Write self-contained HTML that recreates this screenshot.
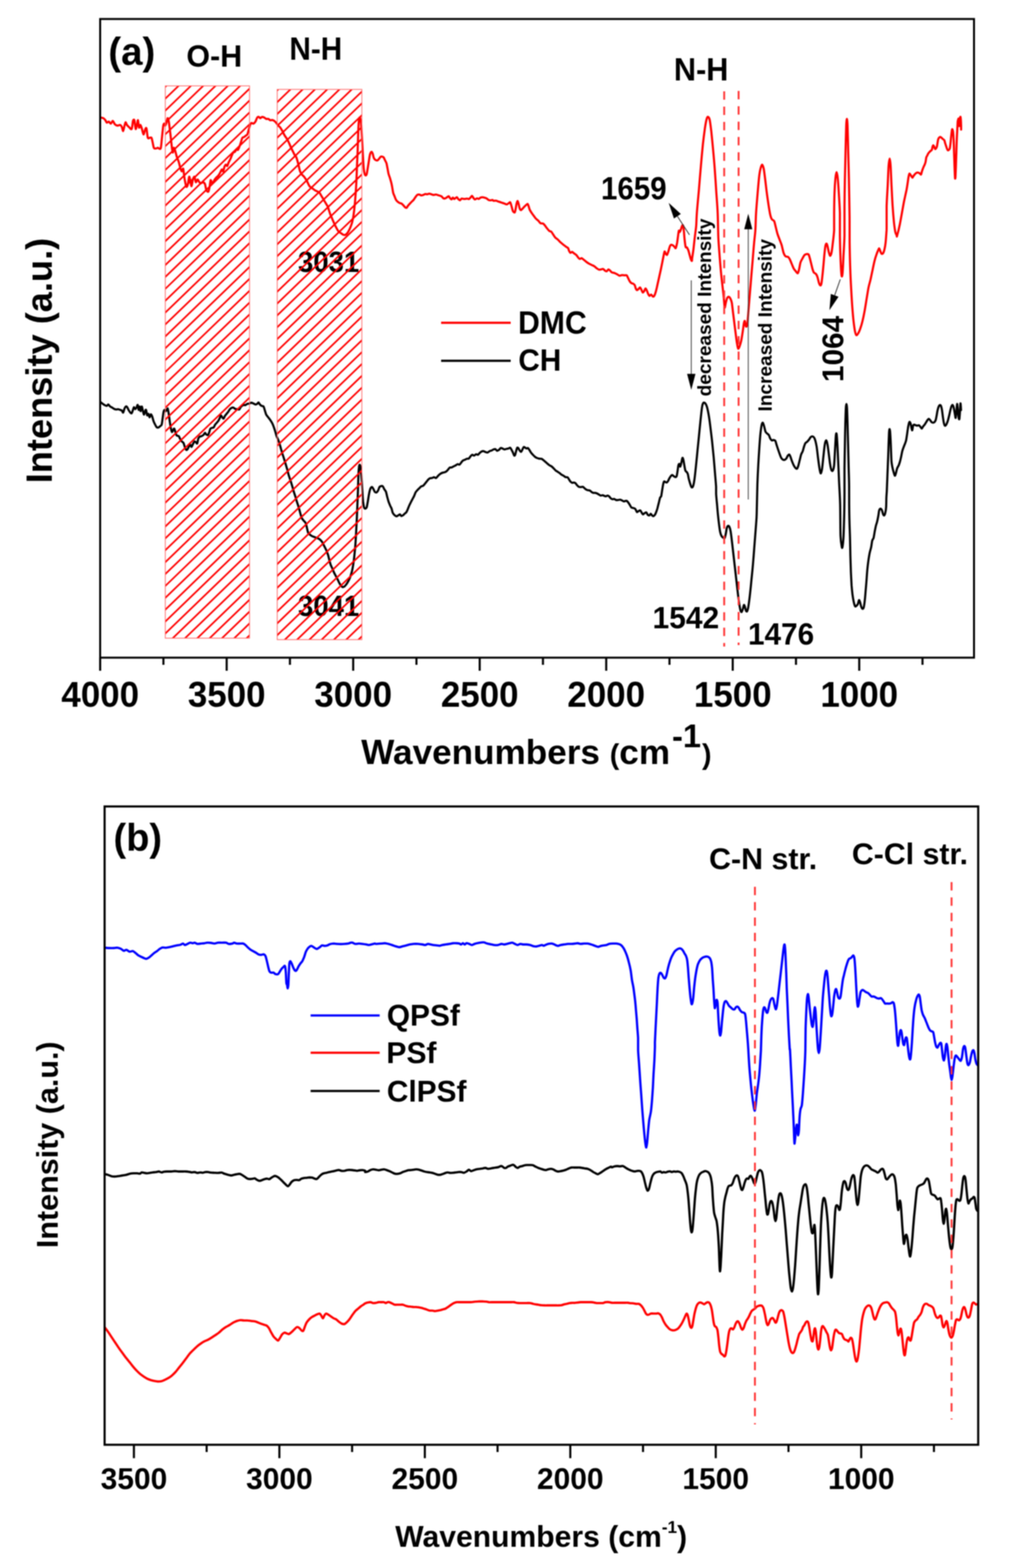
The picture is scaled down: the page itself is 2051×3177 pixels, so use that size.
<!DOCTYPE html>
<html lang="en"><head><meta charset="utf-8"><title>FTIR spectra</title>
<style>
html,body{margin:0;padding:0;background:#fff;}
body{width:2051px;height:3177px;overflow:hidden;}
svg{display:block;}
#fig{width:2051px;height:3177px;filter:blur(0.8px);}
text{font-family:"Liberation Sans",sans-serif;font-weight:bold;fill:#000;}
.curve{fill:none;stroke-linejoin:round;stroke-linecap:round;}
.ax line{stroke:#000;stroke-width:4.2;}
</style></head><body>
<div id="fig">
<svg width="2051" height="3177" viewBox="0 0 2051 3177" role="img" aria-label="FTIR spectra">
<defs>
</defs>
<rect x="0" y="0" width="2051" height="3177" fill="#fff"/>
<g id="panel-a">
<path class="curve" d="M204.1,238.2C204.9,238.4 208.2,238.8 209.5,239.5C210.9,240.3 212.7,242.4 213.6,243.6C214.6,244.9 215.4,248.2 216.4,248.5C217.3,248.9 219.3,246.1 220.5,246.4C221.6,246.6 223.4,250.6 224.5,250.5C225.7,250.3 227.5,244.8 228.6,245.0C229.8,245.2 231.4,250.5 232.7,251.8C234.1,253.2 236.7,254.4 238.2,254.5C239.7,254.7 242.4,252.8 243.6,253.2C244.9,253.6 246.1,255.6 246.9,257.3C247.7,259.0 248.9,265.8 249.6,265.5C250.4,265.1 251.7,257.0 252.4,254.5C253.1,252.1 253.9,247.9 254.5,247.7C255.2,247.5 256.3,251.8 257.3,253.2C258.2,254.5 260.0,256.1 261.4,257.3C262.7,258.4 265.7,263.1 266.8,261.4C268.0,259.6 268.8,247.5 269.5,245.0C270.3,242.5 271.5,241.3 272.3,243.6C273.0,245.9 274.2,260.2 275.0,261.4C275.8,262.5 277.1,254.3 277.7,251.8C278.4,249.3 279.1,242.7 279.6,243.6C280.2,244.6 281.1,257.3 281.8,258.6C282.5,260.0 283.8,253.0 284.5,253.2C285.3,253.4 286.4,257.3 287.3,260.0C288.2,262.7 289.9,271.9 290.8,272.3C291.8,272.7 293.3,264.4 294.1,262.7C294.9,261.0 296.1,257.7 296.8,260.0C297.6,262.3 298.6,276.4 299.5,279.1C300.5,281.8 302.6,279.1 303.6,279.1C304.7,279.1 306.1,277.9 306.9,279.1C307.7,280.2 308.4,284.4 309.1,287.3C309.8,290.1 310.9,297.6 311.8,299.5C312.8,301.5 314.8,300.9 315.9,300.9C317.1,300.9 319.0,299.5 320.0,299.5C321.0,299.6 322.4,301.5 323.3,301.5C324.1,301.5 325.3,302.7 326.0,299.5C326.7,296.4 327.5,285.4 328.2,279.1C328.9,272.8 330.2,258.6 330.9,254.5C331.6,250.5 332.5,250.5 333.1,250.5C333.7,250.5 334.4,254.7 335.0,254.5C335.6,254.4 336.5,251.2 337.2,249.1C337.8,247.0 339.0,240.1 339.6,239.5C340.3,239.0 341.2,242.3 341.8,245.0C342.4,247.7 343.2,254.2 343.7,258.6C344.3,263.0 345.2,270.4 345.9,276.4C346.6,282.3 348.0,296.3 348.6,300.9C349.3,305.5 350.0,309.3 350.5,309.1C351.0,308.9 351.6,300.1 352.2,299.5C352.8,299.0 354.1,302.5 354.9,305.0C355.7,307.5 357.2,314.0 358.2,317.3C359.2,320.5 361.2,324.7 362.3,328.2C363.3,331.6 364.9,339.1 365.8,341.8C366.7,344.5 367.8,347.3 368.5,347.3C369.3,347.3 370.6,340.3 371.3,341.8C372.0,343.3 372.8,354.0 373.5,358.2C374.1,362.4 375.3,369.0 375.9,371.8C376.5,374.7 377.2,378.3 377.8,378.6C378.5,379.0 379.8,377.4 380.5,374.5C381.3,371.7 382.6,359.5 383.3,358.2C384.0,356.8 384.8,362.3 385.5,365.0C386.1,367.7 387.4,377.5 388.2,377.3C388.9,377.1 390.1,366.3 390.9,363.6C391.7,361.0 393.3,357.4 394.2,358.2C395.0,358.9 396.0,368.3 396.9,369.1C397.8,369.9 399.5,363.6 400.5,363.6C401.4,363.6 403.0,368.0 404.0,369.1C405.0,370.2 406.2,371.3 407.3,371.3C408.3,371.3 410.2,368.8 411.4,369.1C412.5,369.4 414.5,370.9 415.5,373.2C416.4,375.5 417.2,383.4 418.2,385.5C419.1,387.6 421.3,389.3 422.3,388.2C423.2,387.0 424.4,380.5 425.0,377.3C425.6,374.0 426.3,366.0 426.9,365.0C427.6,364.0 428.9,369.9 429.6,370.5C430.4,371.0 431.6,370.0 432.4,369.1C433.1,368.1 434.2,365.0 435.1,363.6C436.0,362.3 437.6,360.7 438.6,359.5C439.7,358.4 441.6,357.0 442.7,355.5C443.9,353.9 445.9,350.4 446.8,348.6C447.8,346.9 448.8,343.4 449.5,343.2C450.3,343.0 451.5,348.0 452.3,347.3C453.0,346.5 454.2,339.6 455.0,337.7C455.8,335.8 457.0,333.8 457.7,333.6C458.5,333.4 459.7,336.9 460.5,336.4C461.2,335.8 462.2,331.6 463.2,329.5C464.1,327.4 466.3,323.5 467.3,321.4C468.2,319.3 469.2,316.3 470.0,314.5C470.8,312.8 471.9,310.0 472.7,309.1C473.6,308.1 475.0,308.7 476.0,307.7C477.0,306.8 478.7,302.8 479.5,302.3C480.4,301.7 481.4,304.6 482.3,303.6C483.2,302.7 484.9,297.7 485.8,295.5C486.7,293.2 487.8,289.6 488.5,287.3C489.3,285.0 490.4,280.4 491.3,279.1C492.1,277.8 493.6,278.3 494.5,277.7C495.5,277.2 496.9,275.8 497.8,275.0C498.8,274.2 500.5,274.0 501.4,272.3C502.2,270.6 503.3,265.4 504.1,262.7C504.9,260.1 506.1,255.1 506.8,253.2C507.6,251.3 508.6,249.5 509.5,249.1C510.5,248.7 512.5,250.8 513.6,250.5C514.8,250.1 516.7,248.1 517.7,246.4C518.8,244.6 520.3,239.5 521.3,238.2C522.2,236.8 523.7,236.6 524.5,236.8C525.4,237.0 526.3,239.5 527.3,239.5C528.2,239.5 530.2,237.0 531.4,236.8C532.5,236.6 534.3,237.6 535.5,238.2C536.6,238.8 538.4,240.5 539.5,240.9C540.7,241.3 542.5,240.5 543.6,240.9C544.8,241.3 546.6,243.3 547.7,243.6C548.9,243.9 550.7,242.9 551.8,243.1C553.0,243.3 554.8,244.2 555.9,245.0C557.1,245.8 558.9,247.8 560.0,249.1C561.1,250.4 562.9,253.2 564.1,254.5C565.2,255.9 567.0,257.1 568.2,258.6C569.3,260.2 571.1,263.4 572.3,265.5C573.4,267.6 575.0,271.3 576.4,273.6C577.7,275.9 580.5,279.5 581.8,281.8C583.2,284.1 584.8,287.5 585.9,290.0C587.1,292.5 588.9,297.1 590.0,299.5C591.1,302.0 592.9,305.4 594.1,307.7C595.2,310.0 597.4,314.6 598.2,315.9C599.0,317.2 599.4,315.9 600.0,317.3C600.6,318.6 602.0,322.8 602.7,325.5C603.5,328.1 604.7,333.3 605.5,336.4C606.2,339.4 607.2,344.8 608.2,347.3C609.1,349.8 611.1,352.6 612.3,354.1C613.4,355.6 615.0,356.5 616.4,358.2C617.7,359.9 620.3,363.7 621.8,366.4C623.3,369.0 625.7,375.2 627.3,377.3C628.8,379.4 631.2,380.2 632.7,381.4C634.3,382.5 636.7,384.5 638.2,385.5C639.7,386.4 642.3,387.4 643.6,388.2C645.0,388.9 646.6,389.6 647.7,390.9C648.9,392.2 650.7,395.8 651.8,397.7C653.0,399.6 654.8,402.6 655.9,404.5C657.1,406.5 658.9,409.5 660.0,411.4C661.1,413.3 663.1,416.1 664.1,418.2C665.0,420.3 666.1,424.1 666.8,426.4C667.6,428.7 668.6,432.1 669.5,434.5C670.5,437.0 672.5,441.4 673.6,444.1C674.8,446.8 676.6,451.2 677.7,453.6C678.9,456.1 680.7,459.7 681.8,461.8C683.0,463.9 684.6,467.1 685.9,468.6C687.2,470.2 690.0,471.8 691.4,472.7C692.7,473.7 694.3,475.0 695.5,475.5C696.6,475.9 698.4,476.4 699.5,476.0C700.7,475.6 702.5,474.1 703.6,472.7C704.8,471.3 706.6,468.2 707.7,465.9C708.9,463.6 710.9,459.0 711.8,456.4C712.8,453.7 713.9,449.9 714.5,446.8C715.2,443.8 716.2,438.6 716.7,434.5C717.3,430.5 718.1,423.5 718.6,418.2C719.2,412.8 720.0,403.2 720.5,396.4C721.0,389.5 721.8,377.5 722.2,369.1C722.6,360.7 723.2,345.5 723.5,336.4C723.9,327.2 724.6,313.2 724.9,303.6C725.3,294.1 725.7,276.6 726.0,268.2C726.3,259.8 727.0,247.8 727.4,243.6C727.7,239.4 728.3,238.6 728.7,238.2C729.1,237.8 729.9,239.4 730.4,240.9C730.8,242.4 731.3,244.9 731.7,249.1C732.1,253.3 732.7,264.4 733.1,270.9C733.5,277.4 734.1,288.6 734.5,295.5C734.8,302.3 735.4,313.5 735.8,320.0C736.2,326.5 736.7,337.2 737.2,341.8C737.6,346.4 738.5,350.8 739.1,352.7C739.7,354.6 740.7,355.5 741.3,355.5C741.8,355.5 742.6,354.6 743.2,352.7C743.7,350.8 744.5,345.3 745.1,341.8C745.7,338.4 746.7,332.0 747.3,328.2C747.9,324.4 748.9,317.2 749.5,314.5C750.0,311.9 750.8,310.0 751.4,309.1C751.9,308.1 753.0,307.3 753.5,307.7C754.1,308.1 754.9,310.1 755.5,311.8C756.0,313.5 756.9,318.3 757.6,320.0C758.4,321.7 759.9,323.4 760.9,324.1C761.9,324.8 763.9,325.3 765.0,324.9C766.1,324.5 767.7,322.4 768.5,321.4C769.4,320.4 770.4,318.4 771.3,317.8C772.1,317.2 773.7,317.2 774.5,317.3C775.4,317.4 776.5,317.7 777.3,318.6C778.0,319.6 779.2,322.4 780.0,324.1C780.8,325.8 782.5,328.4 783.3,330.9C784.0,333.4 784.8,338.8 785.5,341.8C786.1,344.9 786.9,350.1 787.6,352.7C788.3,355.4 789.6,358.4 790.4,360.9C791.1,363.4 792.4,367.8 793.1,370.5C793.7,373.1 794.5,377.1 795.0,380.0C795.5,382.9 796.3,388.4 796.9,390.9C797.6,393.4 798.9,395.8 799.6,397.7C800.4,399.6 801.5,403.0 802.4,404.5C803.2,406.1 804.8,407.7 805.9,408.6C807.0,409.6 808.9,410.8 810.0,411.4C811.1,411.9 812.9,412.0 814.1,412.7C815.2,413.5 817.2,415.7 818.2,416.8C819.2,417.9 820.6,419.8 821.5,420.4C822.3,420.9 823.4,421.4 824.2,420.9C824.9,420.4 826.0,418.0 826.9,416.8C827.8,415.7 829.4,413.9 830.5,412.7C831.5,411.6 833.4,409.8 834.5,408.6C835.7,407.5 837.6,405.9 838.6,404.5C839.7,403.2 841.2,400.4 842.2,399.1C843.1,397.8 844.4,395.7 845.5,395.0C846.5,394.3 848.4,394.1 849.5,394.2C850.7,394.3 852.5,395.7 853.6,395.8C854.8,395.9 856.6,395.4 857.7,395.0C858.9,394.6 860.7,393.3 861.8,393.1C863.0,392.9 864.8,393.8 865.9,393.6C867.1,393.5 868.9,392.3 870.0,392.3C871.1,392.3 872.9,393.3 874.1,393.6C875.2,394.0 876.8,394.9 878.2,395.0C879.5,395.1 882.1,394.1 883.6,394.2C885.2,394.3 887.6,395.3 889.1,395.8C890.6,396.3 893.2,396.9 894.5,397.7C895.9,398.6 897.5,401.2 898.6,401.8C899.8,402.4 901.6,402.2 902.7,401.8C903.9,401.4 905.9,399.7 906.8,399.1C907.8,398.5 908.8,397.3 909.5,397.7C910.3,398.1 911.5,400.9 912.3,401.8C913.0,402.7 914.2,404.2 915.0,404.0C915.8,403.8 917.0,400.6 917.7,400.5C918.5,400.3 919.7,403.1 920.5,403.2C921.2,403.3 922.4,401.8 923.2,401.3C923.9,400.8 925.1,399.4 925.9,399.6C926.7,399.9 927.8,402.3 928.6,403.2C929.5,404.1 931.2,406.0 932.2,405.9C933.1,405.8 934.2,402.7 935.5,402.4C936.7,402.0 939.4,403.2 940.9,403.2C942.4,403.2 945.0,402.4 946.4,402.4C947.7,402.4 949.3,403.6 950.5,403.2C951.6,402.7 953.7,400.0 954.5,399.1C955.4,398.2 956.0,396.5 956.7,396.9C957.5,397.3 959.2,400.8 960.0,401.8C960.8,402.8 961.8,404.0 962.7,404.0C963.7,404.0 965.7,401.9 966.8,401.8C967.9,401.7 969.4,403.4 970.4,403.2C971.3,403.0 972.6,401.0 973.6,400.5C974.7,400.0 976.6,399.6 977.7,399.6C978.9,399.6 980.7,400.1 981.8,400.5C983.0,400.8 984.8,401.2 985.9,401.8C987.1,402.5 988.9,404.5 990.0,405.1C991.1,405.7 992.9,405.9 994.1,405.9C995.2,405.9 997.4,405.0 998.2,405.1C999.0,405.2 999.0,406.5 1000.0,406.7C1001.0,407.0 1003.9,406.5 1005.5,406.7C1007.0,407.0 1009.4,408.1 1010.9,408.6C1012.4,409.2 1014.8,410.0 1016.4,410.5C1017.9,411.0 1020.3,411.7 1021.8,412.2C1023.3,412.7 1025.9,414.2 1027.3,414.1C1028.6,414.0 1030.4,411.9 1031.4,411.4C1032.3,410.8 1033.3,409.0 1034.1,410.0C1034.9,411.0 1036.1,415.7 1036.8,418.2C1037.6,420.7 1038.7,426.0 1039.5,427.7C1040.4,429.4 1042.3,431.0 1043.1,430.5C1043.9,429.9 1044.5,426.1 1045.0,423.6C1045.5,421.2 1046.3,415.0 1046.9,412.7C1047.5,410.4 1048.5,407.1 1049.1,407.3C1049.7,407.5 1050.7,412.0 1051.3,414.1C1051.8,416.2 1052.5,420.6 1053.2,422.3C1053.8,423.9 1055.0,425.8 1055.9,425.8C1056.8,425.8 1058.4,423.3 1059.5,422.3C1060.5,421.2 1062.2,419.2 1063.3,418.2C1064.3,417.2 1065.9,415.6 1066.8,414.9C1067.7,414.2 1068.9,412.8 1069.5,413.3C1070.2,413.7 1070.9,416.5 1071.5,418.2C1072.0,419.8 1072.8,423.1 1073.6,425.0C1074.5,426.9 1076.6,430.1 1077.7,431.8C1078.9,433.5 1080.7,435.7 1081.8,437.3C1083.0,438.8 1084.6,441.3 1085.9,442.7C1087.2,444.2 1090.0,446.3 1091.4,447.6C1092.7,449.0 1094.1,451.5 1095.5,452.3C1096.8,453.0 1099.6,452.3 1100.9,453.1C1102.2,453.9 1103.9,456.3 1105.0,457.7C1106.1,459.1 1107.9,461.8 1109.1,463.2C1110.2,464.6 1112.0,466.9 1113.2,467.8C1114.3,468.7 1116.1,468.4 1117.3,469.5C1118.4,470.5 1120.2,473.8 1121.4,475.5C1122.5,477.1 1124.1,480.0 1125.5,481.5C1126.8,482.9 1129.4,484.4 1130.9,485.8C1132.4,487.2 1134.8,489.9 1136.4,491.3C1137.9,492.7 1140.3,494.7 1141.8,495.9C1143.3,497.1 1145.9,499.0 1147.3,500.0C1148.6,501.0 1150.5,501.6 1151.4,502.7C1152.2,503.9 1152.6,506.8 1153.3,508.2C1153.9,509.5 1155.1,512.0 1156.0,512.3C1156.9,512.6 1158.5,510.2 1159.5,510.4C1160.6,510.6 1162.5,512.8 1163.6,513.6C1164.8,514.5 1166.6,515.2 1167.7,516.4C1168.9,517.5 1170.8,520.7 1171.8,521.8C1172.8,523.0 1174.1,524.4 1175.1,524.5C1176.0,524.7 1177.6,523.0 1178.6,523.2C1179.7,523.4 1181.4,524.9 1182.7,525.9C1184.1,526.9 1186.7,529.4 1188.2,530.5C1189.7,531.7 1192.1,533.2 1193.6,534.1C1195.2,535.0 1197.6,536.1 1199.1,536.8C1200.6,537.6 1203.1,538.6 1204.5,539.5C1206.0,540.5 1208.1,542.7 1209.5,543.6C1210.8,544.6 1212.9,546.1 1214.1,546.4C1215.3,546.7 1217.0,546.0 1218.2,545.8C1219.3,545.6 1221.1,544.6 1222.3,545.0C1223.4,545.4 1225.3,547.9 1226.4,548.5C1227.4,549.2 1228.7,550.0 1229.6,549.6C1230.6,549.3 1232.2,546.0 1233.2,545.8C1234.2,545.7 1235.8,547.7 1236.7,548.5C1237.7,549.4 1238.8,551.2 1240.0,551.8C1241.2,552.5 1243.9,552.6 1245.5,553.2C1247.0,553.8 1249.5,555.1 1250.9,555.9C1252.4,556.7 1254.5,558.4 1255.8,558.6C1257.2,558.8 1259.0,557.4 1260.5,557.3C1261.9,557.2 1264.6,557.7 1265.9,557.8C1267.2,557.9 1269.0,557.1 1270.0,557.8C1271.0,558.5 1271.9,561.1 1272.7,562.7C1273.6,564.4 1275.0,568.0 1276.0,569.5C1277.0,571.1 1278.5,572.9 1279.5,573.6C1280.6,574.4 1282.7,574.4 1283.6,575.0C1284.6,575.6 1285.7,576.4 1286.4,577.7C1287.1,579.1 1287.9,583.1 1288.5,584.5C1289.2,586.0 1290.4,587.7 1291.3,587.8C1292.1,587.9 1293.7,585.9 1294.5,585.1C1295.4,584.3 1296.5,582.1 1297.3,582.4C1298.0,582.7 1299.2,585.8 1300.0,587.3C1300.8,588.7 1302.0,592.3 1302.7,592.7C1303.5,593.1 1304.7,591.1 1305.5,590.0C1306.2,588.9 1307.4,584.7 1308.2,584.5C1308.9,584.4 1310.1,587.1 1310.9,588.6C1311.7,590.2 1312.9,593.9 1313.6,595.5C1314.4,597.0 1315.5,599.4 1316.4,599.5C1317.2,599.7 1318.7,596.6 1319.6,596.8C1320.6,597.0 1322.3,600.5 1323.2,600.9C1324.1,601.3 1325.1,600.7 1325.9,599.5C1326.7,598.4 1327.9,595.2 1328.6,592.7C1329.4,590.2 1330.6,585.1 1331.4,581.8C1332.1,578.6 1333.3,573.0 1334.1,569.5C1334.9,566.1 1336.1,560.7 1336.8,557.3C1337.6,553.8 1338.8,548.6 1339.5,545.0C1340.3,541.4 1341.5,535.2 1342.3,531.4C1343.0,527.5 1344.4,520.8 1345.0,517.7C1345.6,514.7 1346.3,510.1 1346.9,509.5C1347.5,509.0 1348.4,512.7 1349.1,513.6C1349.8,514.6 1351.1,516.9 1351.8,516.4C1352.6,515.8 1353.8,511.8 1354.5,509.5C1355.3,507.3 1356.5,501.9 1357.3,500.0C1358.0,498.1 1359.0,496.3 1360.0,495.9C1361.0,495.5 1363.1,496.7 1364.1,497.3C1365.0,497.8 1366.1,499.2 1366.8,500.0C1367.6,500.8 1368.8,503.9 1369.5,502.7C1370.3,501.6 1371.6,495.3 1372.3,491.8C1372.9,488.4 1373.7,481.6 1374.2,478.2C1374.7,474.7 1375.3,468.4 1375.8,467.3C1376.3,466.1 1377.2,470.2 1377.7,470.0C1378.3,469.8 1379.1,467.4 1379.6,465.9C1380.2,464.4 1381.2,460.4 1381.8,459.1C1382.4,457.8 1383.4,455.2 1384.0,456.4C1384.6,457.5 1385.5,463.5 1385.9,467.3C1386.4,471.1 1386.8,479.1 1387.3,483.6C1387.8,488.2 1388.8,497.5 1389.5,500.0C1390.1,502.5 1391.4,500.4 1392.2,501.4C1392.9,502.3 1394.1,504.7 1394.9,506.8C1395.7,508.9 1396.9,513.7 1397.6,516.4C1398.4,519.0 1399.7,524.2 1400.4,525.9C1401.0,527.6 1401.9,529.0 1402.3,528.6C1402.6,528.3 1402.3,527.0 1402.7,523.6C1403.2,520.3 1404.7,510.7 1405.5,504.5C1406.2,498.4 1407.4,486.5 1408.2,480.0C1408.9,473.5 1410.3,464.9 1410.9,458.2C1411.5,451.4 1411.5,442.0 1412.3,431.8C1413.0,421.6 1415.2,398.8 1416.4,385.5C1417.5,372.1 1419.3,349.3 1420.5,336.4C1421.6,323.4 1423.4,303.4 1424.5,292.7C1425.7,282.0 1427.6,267.3 1428.6,260.0C1429.7,252.7 1431.3,244.2 1432.2,240.9C1433.1,237.7 1434.1,236.6 1434.9,236.8C1435.7,237.0 1437.3,238.3 1438.2,242.3C1439.1,246.3 1440.5,257.2 1441.5,265.5C1442.4,273.7 1444.0,290.2 1445.0,300.9C1446.0,311.6 1447.6,329.2 1448.5,341.8C1449.5,354.4 1451.0,378.3 1451.8,390.9C1452.7,403.5 1454.0,419.0 1454.5,431.8C1455.1,444.7 1455.3,470.3 1455.9,482.7C1456.5,495.2 1457.9,511.0 1458.6,520.9C1459.4,530.8 1460.6,545.6 1461.4,553.6C1462.1,561.7 1463.3,571.3 1464.1,578.2C1464.9,585.1 1466.2,596.4 1466.8,602.7C1467.5,609.0 1468.2,621.7 1468.7,623.2C1469.3,624.7 1470.2,616.3 1470.9,613.6C1471.6,611.0 1472.8,605.8 1473.6,604.1C1474.5,602.4 1476.0,601.2 1476.9,601.4C1477.9,601.6 1479.6,603.7 1480.5,605.5C1481.3,607.2 1482.4,609.4 1483.2,613.6C1483.9,617.8 1485.1,629.3 1485.9,635.5C1486.7,641.6 1487.9,651.2 1488.6,657.3C1489.4,663.4 1490.6,673.4 1491.4,679.1C1492.1,684.8 1493.4,694.4 1494.1,698.2C1494.7,702.0 1495.4,705.8 1496.0,706.4C1496.6,706.9 1497.8,704.6 1498.7,702.3C1499.6,700.0 1501.4,694.0 1502.3,690.0C1503.2,686.0 1504.2,678.6 1505.0,673.6C1505.8,668.7 1507.1,657.8 1507.7,654.5C1508.4,651.3 1509.1,649.5 1509.6,650.5C1510.2,651.4 1511.1,660.4 1511.8,661.4C1512.5,662.3 1513.8,662.4 1514.5,657.3C1515.3,652.1 1516.5,633.7 1517.3,624.5C1518.0,615.4 1519.2,601.0 1520.0,591.8C1520.8,582.7 1522.0,568.3 1522.7,559.1C1523.5,549.9 1524.7,535.5 1525.5,526.4C1526.2,517.2 1527.4,502.0 1528.2,493.6C1528.9,485.2 1530.3,475.0 1530.9,466.4C1531.5,457.7 1531.6,442.4 1532.3,431.8C1532.9,421.3 1534.7,401.2 1535.5,390.9C1536.4,380.6 1537.7,365.1 1538.5,358.2C1539.3,351.3 1540.4,345.3 1541.3,341.8C1542.1,338.4 1543.6,333.6 1544.5,333.6C1545.5,333.6 1546.9,337.6 1547.8,341.8C1548.7,346.0 1549.9,356.8 1550.8,363.6C1551.7,370.5 1553.1,383.7 1554.1,390.9C1555.0,398.2 1556.7,409.3 1557.6,415.5C1558.6,421.6 1560.0,430.5 1560.9,434.5C1561.8,438.6 1563.0,442.2 1564.2,444.1C1565.3,446.0 1567.9,445.8 1569.1,448.2C1570.2,450.5 1571.4,457.2 1572.4,460.9C1573.3,464.6 1574.8,471.1 1575.9,474.5C1577.0,478.0 1578.9,482.4 1580.0,485.5C1581.1,488.5 1582.9,492.5 1584.1,496.4C1585.2,500.2 1587.0,509.5 1588.2,512.7C1589.3,516.0 1591.1,518.5 1592.3,519.5C1593.5,520.6 1595.8,519.6 1596.9,520.4C1598.1,521.1 1599.4,523.0 1600.5,525.0C1601.5,527.0 1603.4,531.9 1604.5,534.5C1605.7,537.2 1607.5,542.0 1608.6,544.1C1609.8,546.2 1611.6,548.2 1612.7,549.5C1613.9,550.9 1615.9,554.2 1616.8,553.6C1617.8,553.1 1618.8,548.5 1619.5,545.5C1620.3,542.4 1621.3,534.9 1622.3,531.8C1623.2,528.8 1625.2,525.7 1626.4,523.6C1627.5,521.5 1629.3,518.0 1630.5,516.8C1631.6,515.6 1633.4,515.1 1634.5,514.9C1635.7,514.7 1637.7,514.2 1638.6,515.5C1639.6,516.7 1640.6,521.0 1641.4,523.6C1642.1,526.3 1643.3,531.5 1644.1,534.5C1644.9,537.6 1646.1,543.0 1646.8,545.5C1647.6,547.9 1648.6,550.9 1649.5,552.3C1650.5,553.6 1652.6,553.7 1653.6,555.0C1654.7,556.3 1656.1,559.3 1656.9,561.8C1657.7,564.3 1658.9,570.4 1659.6,572.7C1660.4,575.0 1661.7,577.8 1662.4,578.2C1663.1,578.6 1663.9,578.1 1664.5,575.5C1665.2,572.8 1666.2,564.1 1666.7,559.1C1667.3,554.1 1668.1,545.7 1668.6,540.0C1669.2,534.3 1670.0,523.9 1670.5,518.2C1671.1,512.5 1672.1,502.5 1672.7,499.1C1673.3,495.7 1674.3,493.8 1674.9,493.6C1675.5,493.4 1676.2,495.4 1676.8,497.7C1677.5,500.0 1678.8,507.1 1679.5,510.0C1680.3,512.9 1681.5,517.8 1682.3,518.2C1683.0,518.6 1684.2,516.2 1685.0,512.7C1685.8,509.3 1687.0,500.1 1687.7,493.6C1688.5,487.1 1690.1,475.0 1690.5,466.4C1690.5,457.7 1690.5,442.4 1690.5,431.8C1690.6,421.3 1690.9,400.8 1691.3,390.9C1691.6,381.0 1692.6,366.8 1693.2,360.9C1693.8,355.0 1694.7,348.6 1695.4,348.6C1696.0,348.6 1697.2,355.0 1697.8,360.9C1698.5,366.8 1699.4,381.0 1700.0,390.9C1700.6,400.8 1701.9,419.7 1702.2,431.8C1702.2,443.9 1702.2,465.2 1702.2,477.3C1702.4,489.4 1702.8,506.9 1703.3,518.2C1703.7,529.4 1704.8,552.8 1705.5,557.7C1706.1,562.7 1707.1,559.2 1707.6,553.6C1708.2,548.1 1709.0,528.9 1709.5,518.2C1710.1,507.5 1711.2,491.3 1711.5,477.3C1711.5,463.3 1711.5,434.1 1711.5,418.2C1711.6,402.3 1712.0,378.9 1712.3,363.6C1712.6,348.4 1713.3,324.4 1713.6,309.1C1714.0,293.8 1714.6,264.1 1715.0,254.5C1715.4,245.0 1716.0,240.9 1716.4,240.9C1716.7,240.9 1717.3,245.0 1717.7,254.5C1718.1,264.1 1718.7,293.8 1719.1,309.1C1719.5,324.4 1720.1,345.3 1720.5,363.6C1720.8,382.0 1721.6,422.2 1721.8,440.0C1721.9,457.8 1721.8,476.1 1721.9,490.9C1722.1,505.7 1722.7,532.1 1723.2,545.5C1723.6,558.8 1724.5,575.7 1725.1,586.4C1725.7,597.1 1726.6,612.7 1727.3,621.8C1728.0,631.0 1729.2,644.9 1730.0,651.8C1730.8,658.7 1732.0,667.1 1732.7,670.9C1733.5,674.7 1734.5,678.5 1735.5,679.1C1736.4,679.7 1738.4,676.9 1739.5,675.0C1740.7,673.1 1742.5,668.7 1743.6,665.5C1744.8,662.2 1746.6,656.4 1747.7,651.8C1748.9,647.2 1750.7,638.8 1751.8,632.7C1753.0,626.6 1754.8,615.1 1755.9,608.2C1757.1,601.3 1758.9,589.4 1760.0,583.6C1761.1,577.9 1762.9,572.2 1764.1,567.3C1765.2,562.3 1767.0,553.5 1768.2,548.2C1769.3,542.8 1771.1,533.7 1772.3,529.1C1773.4,524.5 1775.3,518.5 1776.4,515.5C1777.4,512.4 1778.9,509.0 1779.6,507.3C1780.4,505.6 1781.2,503.0 1781.8,503.2C1782.4,503.4 1783.3,507.1 1784.0,508.6C1784.7,510.2 1785.9,513.5 1786.7,514.1C1787.6,514.7 1789.2,514.1 1790.0,512.7C1790.8,511.4 1792.0,507.6 1792.7,504.5C1793.4,501.5 1794.3,496.3 1794.9,490.9C1795.5,485.6 1796.5,470.8 1796.8,466.4C1796.9,461.9 1796.9,465.8 1796.9,459.1C1796.9,452.3 1796.9,429.6 1796.9,418.2C1797.2,406.7 1798.4,388.7 1799.0,377.3C1799.6,365.8 1800.3,344.2 1800.9,336.4C1801.5,328.5 1802.5,321.4 1803.1,321.4C1803.7,321.4 1804.5,328.5 1805.0,336.4C1805.5,344.2 1806.3,365.8 1806.9,377.3C1807.5,388.7 1808.4,407.9 1809.1,418.2C1809.8,428.5 1811.1,443.7 1811.8,450.9C1812.6,458.2 1813.8,466.4 1814.5,470.0C1815.3,473.6 1816.8,475.7 1817.3,476.8C1817.8,477.9 1817.3,481.1 1818.0,478.0C1818.9,474.9 1821.8,464.0 1823.7,454.5C1825.6,445.0 1830.3,418.0 1831.8,410.0C1833.3,402.0 1833.8,400.8 1834.5,397.3C1835.3,393.7 1836.6,387.9 1837.3,384.5C1837.9,381.2 1838.6,376.9 1839.1,373.6C1839.6,370.3 1840.5,363.7 1840.9,360.9C1841.4,358.1 1842.0,354.9 1842.4,353.6C1842.7,352.4 1843.2,351.7 1843.6,351.8C1844.1,351.9 1844.9,353.8 1845.5,354.5C1846.0,355.3 1846.8,356.5 1847.3,357.3C1847.8,358.0 1848.6,360.0 1849.1,360.0C1849.6,360.0 1850.3,358.2 1850.9,357.3C1851.5,356.4 1852.9,354.5 1853.6,353.6C1854.4,352.7 1855.6,351.5 1856.4,350.9C1857.1,350.3 1858.3,349.8 1859.1,349.6C1859.9,349.5 1861.1,349.7 1861.8,350.0C1862.6,350.3 1863.9,351.3 1864.5,351.8C1865.2,352.3 1866.2,354.1 1866.7,353.6C1867.2,353.1 1867.7,349.7 1868.2,348.2C1868.6,346.7 1869.5,344.1 1870.0,342.7C1870.5,341.3 1871.3,339.5 1871.8,338.2C1872.4,336.9 1873.4,335.0 1874.0,333.6C1874.6,332.2 1875.4,330.2 1875.8,328.2C1876.3,326.1 1876.8,320.9 1877.3,319.1C1877.7,317.3 1878.5,316.6 1879.1,315.5C1879.7,314.3 1880.6,311.9 1881.3,310.9C1881.9,309.9 1882.9,308.9 1883.6,308.2C1884.3,307.4 1885.7,306.1 1886.4,305.5C1887.1,304.8 1888.0,304.8 1888.5,303.6C1889.1,302.5 1889.6,298.5 1890.0,297.3C1890.4,296.0 1891.0,294.5 1891.5,294.5C1891.9,294.5 1892.8,296.3 1893.3,297.3C1893.8,298.3 1894.6,301.3 1895.1,301.8C1895.6,302.3 1896.4,301.5 1896.9,300.9C1897.4,300.3 1898.3,298.8 1898.7,297.3C1899.2,295.7 1899.6,292.0 1900.0,290.0C1900.4,288.0 1900.8,284.3 1901.3,282.7C1901.7,281.2 1902.5,279.9 1903.1,279.1C1903.7,278.3 1904.8,277.3 1905.5,277.3C1906.1,277.2 1907.2,278.2 1907.8,278.7C1908.5,279.2 1909.4,280.3 1910.0,280.9C1910.6,281.5 1911.6,282.2 1912.2,282.7C1912.7,283.2 1913.5,283.5 1914.0,284.5C1914.5,285.6 1915.0,288.5 1915.5,290.0C1915.9,291.5 1916.8,293.9 1917.3,295.5C1917.8,297.0 1918.6,299.6 1919.1,300.9C1919.6,302.2 1920.3,304.2 1920.9,304.5C1921.5,304.9 1922.5,304.1 1923.1,303.6C1923.7,303.1 1924.5,302.8 1924.9,300.9C1925.4,299.0 1926.0,293.6 1926.4,290.0C1926.8,286.4 1927.4,279.0 1927.8,275.5C1928.2,271.9 1928.8,266.5 1929.1,264.5C1929.4,262.6 1929.7,261.6 1930.0,261.8C1930.3,262.1 1931.1,263.4 1931.5,266.4C1931.8,269.3 1932.4,276.6 1932.7,282.7C1933.0,288.8 1933.4,302.4 1933.6,310.0C1933.9,317.6 1934.3,330.3 1934.5,337.3C1934.8,344.3 1935.2,356.9 1935.5,360.0C1935.7,363.1 1936.1,362.3 1936.4,359.1C1936.6,355.9 1937.0,344.1 1937.3,337.3C1937.5,330.4 1937.9,317.6 1938.2,310.0C1938.4,302.4 1938.8,289.1 1939.1,282.7C1939.3,276.4 1939.7,269.6 1940.0,264.5C1940.3,259.5 1940.7,249.4 1940.9,246.4C1941.2,243.3 1941.6,243.5 1941.8,242.7C1942.1,242.0 1942.4,239.1 1942.7,240.9C1943.1,242.7 1943.8,255.6 1944.2,255.5C1944.6,255.3 1945.1,242.5 1945.5,240.0C1945.8,237.5 1946.4,235.4 1946.7,237.3C1947.1,239.2 1947.7,250.1 1947.8,253.6C1947.9,257.2 1947.9,261.5 1947.9,262.7" stroke="#ff0000" stroke-width="4.3"/>
<path class="curve" d="M204.1,814.9C204.7,815.4 207.0,817.3 208.2,818.2C209.3,819.0 211.1,820.3 212.3,820.9C213.4,821.5 215.3,822.5 216.4,822.3C217.4,822.1 218.7,819.4 219.6,819.5C220.6,819.7 222.1,822.8 223.2,823.6C224.3,824.5 226.1,825.1 227.3,825.8C228.4,826.5 230.2,828.0 231.4,828.5C232.5,829.1 234.3,829.6 235.5,829.6C236.6,829.7 238.4,829.0 239.5,829.1C240.7,829.2 242.6,830.1 243.6,830.5C244.7,830.8 246.1,831.1 246.9,831.8C247.7,832.6 248.9,836.5 249.6,835.9C250.4,835.3 251.6,829.4 252.4,827.7C253.1,826.0 254.3,824.0 255.1,823.6C255.9,823.3 257.1,824.0 257.8,825.0C258.6,826.0 259.7,828.9 260.5,830.5C261.4,832.0 263.2,835.0 264.1,835.9C265.0,836.9 266.1,838.0 266.8,837.3C267.6,836.5 268.9,832.2 269.5,830.5C270.2,828.7 270.8,825.2 271.5,825.0C272.1,824.8 273.4,829.1 274.2,829.1C274.9,829.1 276.2,826.2 276.9,825.0C277.6,823.8 278.5,819.6 279.1,820.4C279.7,821.1 280.4,830.0 281.0,830.5C281.6,830.9 282.6,823.3 283.2,823.6C283.8,824.0 284.5,833.2 285.1,833.2C285.7,833.2 286.7,823.8 287.3,823.6C287.9,823.4 288.8,829.5 289.5,831.8C290.1,834.1 291.0,839.8 291.6,840.0C292.3,840.2 293.5,834.5 294.1,833.2C294.7,831.8 295.4,829.3 296.0,830.5C296.6,831.6 297.5,840.2 298.2,841.4C298.9,842.5 300.2,838.1 300.9,838.6C301.6,839.2 302.4,845.3 303.1,845.5C303.8,845.6 305.1,839.6 305.8,839.5C306.6,839.3 307.8,842.1 308.5,844.1C309.3,846.1 310.4,851.3 311.3,853.6C312.1,855.9 313.6,858.7 314.5,860.5C315.5,862.2 316.9,865.1 317.8,865.9C318.8,866.7 320.4,866.3 321.4,865.9C322.4,865.5 324.0,863.9 324.9,863.2C325.8,862.4 327.0,862.6 327.6,860.5C328.3,858.4 329.0,851.8 329.5,848.2C330.1,844.6 330.9,837.0 331.5,834.5C332.0,832.1 333.0,830.6 333.6,830.5C334.2,830.3 335.2,833.2 335.8,833.2C336.4,833.2 337.4,831.2 338.0,830.5C338.6,829.7 339.4,826.8 339.9,827.7C340.4,828.7 341.2,833.6 341.8,837.3C342.4,840.9 343.4,849.4 344.0,853.6C344.6,857.8 345.5,864.2 346.2,867.3C346.8,870.3 347.9,875.1 348.6,875.5C349.4,875.8 350.7,871.0 351.4,870.0C352.0,869.0 352.7,867.9 353.3,868.6C353.8,869.4 354.8,873.5 355.5,875.5C356.1,877.4 357.2,881.1 358.2,882.3C359.1,883.4 361.3,882.7 362.3,883.6C363.2,884.6 364.1,887.6 365.0,889.1C365.9,890.6 367.6,893.4 368.5,894.5C369.5,895.7 371.0,895.7 371.8,897.3C372.7,898.8 373.8,903.5 374.5,905.5C375.3,907.4 376.5,910.8 377.3,911.5C378.0,912.1 379.2,911.4 380.0,910.4C380.8,909.3 382.4,905.4 383.3,904.1C384.1,902.8 385.3,901.2 386.0,901.4C386.7,901.6 387.5,905.6 388.2,905.5C388.9,905.3 390.1,901.5 390.9,900.0C391.7,898.5 393.3,895.1 394.2,894.5C395.0,894.0 396.1,895.3 396.9,895.9C397.7,896.5 398.9,899.6 399.6,898.6C400.3,897.7 401.1,891.0 401.8,889.1C402.5,887.2 403.6,885.8 404.5,885.0C405.5,884.2 407.5,884.2 408.6,883.6C409.8,883.1 411.8,881.9 412.7,880.9C413.7,880.0 414.7,876.9 415.5,876.8C416.2,876.7 417.3,879.7 418.2,880.4C419.0,881.0 420.6,882.1 421.5,881.5C422.3,880.8 423.5,877.2 424.2,875.5C424.9,873.7 425.5,869.9 426.4,868.6C427.2,867.4 429.5,867.1 430.5,866.7C431.4,866.3 432.4,866.8 433.2,865.9C433.9,865.0 435.0,861.8 435.9,860.5C436.8,859.1 438.5,857.5 439.5,856.4C440.4,855.2 441.9,853.6 442.7,852.3C443.6,850.9 444.8,848.3 445.5,846.8C446.1,845.3 446.9,841.6 447.6,841.4C448.3,841.2 449.6,844.5 450.4,845.5C451.1,846.4 452.3,848.6 453.1,848.2C453.9,847.8 455.0,844.1 455.8,842.7C456.7,841.4 458.2,839.8 459.1,838.6C460.0,837.5 461.4,835.9 462.4,834.5C463.3,833.2 464.9,830.2 465.9,829.1C466.9,827.9 468.5,826.8 469.5,826.4C470.4,825.9 471.7,825.5 472.7,825.8C473.8,826.1 475.7,828.1 476.8,828.5C478.0,829.0 479.8,828.9 480.9,829.1C482.1,829.2 484.0,830.2 485.0,829.6C486.0,829.1 487.0,826.0 487.7,825.0C488.5,824.0 489.6,822.9 490.5,822.3C491.3,821.6 493.0,820.6 494.0,820.4C495.0,820.2 496.2,821.2 497.3,820.9C498.3,820.6 500.2,818.6 501.4,818.2C502.5,817.7 504.3,817.9 505.5,817.6C506.6,817.3 508.4,816.0 509.5,816.0C510.7,816.0 512.5,817.1 513.6,817.6C514.8,818.1 516.7,819.5 517.7,819.5C518.8,819.6 520.4,818.8 521.3,818.2C522.2,817.6 523.2,815.3 524.0,815.5C524.8,815.6 525.9,818.6 526.7,819.5C527.6,820.5 529.0,821.7 530.0,822.3C531.0,822.8 533.1,822.3 534.1,823.6C535.0,825.0 536.1,829.5 536.8,831.8C537.6,834.1 538.6,838.1 539.5,840.0C540.5,841.9 542.5,843.9 543.6,845.5C544.8,847.0 546.6,849.2 547.7,850.9C548.9,852.6 550.8,855.6 551.8,857.7C552.8,859.8 554.3,863.6 555.1,865.9C555.9,868.2 557.1,871.6 557.8,874.1C558.6,876.6 559.7,881.2 560.5,883.6C561.4,886.1 563.2,889.5 564.1,891.8C565.0,894.1 566.1,897.5 566.8,900.0C567.6,902.5 568.8,906.9 569.5,909.5C570.3,912.2 571.4,916.2 572.3,919.1C573.2,922.0 574.9,926.9 575.8,930.0C576.8,933.1 578.2,937.9 579.1,940.9C580.0,944.0 581.5,948.8 582.4,951.8C583.2,954.9 584.3,960.1 585.1,962.7C585.9,965.4 587.1,968.6 587.8,970.9C588.6,973.2 589.8,976.6 590.5,979.1C591.3,981.6 592.5,986.0 593.3,988.6C594.0,991.3 595.2,995.7 596.0,998.2C596.8,1000.7 598.0,1003.9 598.7,1006.4C599.5,1008.8 600.7,1013.4 601.5,1015.9C602.2,1018.4 603.4,1021.6 604.2,1024.1C604.9,1026.6 606.2,1031.2 606.9,1033.6C607.6,1036.1 608.4,1039.5 609.1,1041.8C609.8,1044.1 610.9,1048.1 611.8,1050.0C612.8,1051.9 614.8,1053.9 615.9,1055.5C617.1,1057.0 618.8,1057.5 620.0,1060.9C621.2,1064.3 623.3,1076.4 624.5,1079.5C625.8,1082.7 627.5,1082.7 628.6,1083.6C629.8,1084.6 631.4,1085.7 632.7,1086.4C634.1,1087.1 636.7,1088.0 638.2,1088.5C639.7,1089.1 642.2,1089.8 643.6,1090.5C645.1,1091.1 647.2,1092.0 648.5,1093.2C649.9,1094.3 652.0,1096.7 653.2,1098.6C654.4,1100.5 656.1,1104.5 657.3,1106.8C658.4,1109.1 660.3,1112.5 661.4,1115.0C662.4,1117.5 664.0,1121.7 664.9,1124.5C665.8,1127.4 666.9,1132.6 667.6,1135.5C668.4,1138.3 669.5,1142.7 670.4,1145.0C671.2,1147.3 672.7,1149.7 673.6,1151.8C674.6,1153.9 676.0,1157.9 676.9,1160.0C677.9,1162.1 679.5,1164.9 680.5,1166.8C681.4,1168.7 683.0,1171.7 684.0,1173.6C685.0,1175.5 686.4,1178.7 687.3,1180.5C688.2,1182.2 689.6,1184.6 690.5,1185.9C691.5,1187.2 693.1,1189.1 694.1,1189.5C695.1,1189.8 696.6,1189.3 697.6,1188.6C698.7,1187.9 700.4,1185.9 701.5,1184.5C702.5,1183.2 704.0,1180.8 705.0,1179.1C706.0,1177.4 707.6,1174.6 708.5,1172.3C709.5,1170.0 711.0,1165.6 711.8,1162.7C712.7,1159.9 713.9,1155.3 714.5,1151.8C715.2,1148.4 716.2,1142.4 716.7,1138.2C717.3,1134.0 718.1,1127.2 718.6,1121.8C719.2,1116.5 720.1,1106.5 720.5,1100.0C721.0,1093.5 721.5,1082.7 721.9,1075.5C722.3,1068.2 722.9,1055.8 723.3,1048.2C723.6,1040.5 724.1,1028.5 724.4,1020.9C724.7,1013.3 725.2,1001.3 725.5,993.6C725.7,986.0 726.0,972.9 726.3,966.4C726.5,959.9 727.0,950.7 727.4,947.3C727.7,943.8 728.3,942.2 728.7,941.8C729.1,941.4 729.9,942.6 730.4,944.5C730.8,946.5 731.3,951.3 731.7,955.5C732.1,959.7 732.7,968.8 733.1,974.5C733.5,980.3 734.1,990.6 734.5,996.4C734.8,1002.1 735.4,1011.1 735.8,1015.5C736.3,1019.8 737.1,1025.6 737.7,1027.7C738.4,1029.8 739.7,1030.5 740.5,1030.5C741.2,1030.5 742.5,1029.4 743.2,1027.7C743.8,1026.0 744.5,1021.4 745.1,1018.2C745.7,1014.9 746.7,1008.0 747.3,1004.5C747.9,1001.1 748.8,995.9 749.5,993.6C750.1,991.3 751.0,989.1 751.6,988.2C752.3,987.2 753.4,986.4 754.1,986.8C754.8,987.2 756.1,989.6 756.8,990.9C757.6,992.2 758.7,995.4 759.5,996.4C760.4,997.3 762.1,998.1 763.1,997.7C764.0,997.3 765.5,995.2 766.4,993.6C767.2,992.1 768.3,988.0 769.1,986.8C769.9,985.6 771.4,985.1 772.4,984.9C773.3,984.7 775.0,984.6 775.9,985.5C776.8,986.3 777.8,989.4 778.6,990.9C779.5,992.4 781.3,994.1 782.2,996.4C783.1,998.7 784.1,1004.4 784.9,1007.3C785.7,1010.1 786.8,1014.3 787.6,1016.8C788.5,1019.3 790.1,1023.1 790.9,1025.0C791.7,1026.9 792.9,1028.5 793.6,1030.5C794.3,1032.4 795.1,1036.8 795.8,1038.6C796.6,1040.4 798.1,1042.2 799.1,1043.3C800.1,1044.3 802.0,1045.9 803.2,1046.0C804.3,1046.1 806.2,1044.6 807.3,1044.1C808.3,1043.6 809.7,1042.0 810.5,1042.2C811.4,1042.4 812.4,1045.2 813.3,1045.5C814.2,1045.7 815.8,1044.8 816.8,1044.1C817.8,1043.4 819.4,1041.4 820.4,1040.5C821.3,1039.7 822.8,1039.0 823.6,1037.8C824.5,1036.6 825.6,1033.6 826.4,1031.8C827.1,1030.0 828.3,1026.9 829.1,1025.0C829.9,1023.1 831.4,1020.1 832.4,1018.2C833.3,1016.3 834.9,1013.3 835.9,1011.4C836.9,1009.5 838.6,1006.5 839.5,1004.5C840.3,1002.6 841.3,999.3 842.2,997.7C843.0,996.2 844.4,994.8 845.5,993.6C846.5,992.5 848.4,990.7 849.5,989.5C850.7,988.4 852.5,986.2 853.6,985.5C854.8,984.7 856.7,984.9 857.7,984.1C858.8,983.3 860.3,981.1 861.3,980.0C862.2,978.9 863.6,977.1 864.5,975.9C865.5,974.8 866.9,972.8 867.8,971.8C868.8,970.9 870.3,969.5 871.4,969.1C872.4,968.6 874.3,968.9 875.5,968.5C876.6,968.2 878.4,966.9 879.5,966.9C880.7,966.9 882.7,968.7 883.6,968.5C884.6,968.4 885.5,966.7 886.4,965.8C887.2,964.9 888.7,963.2 889.6,962.3C890.6,961.4 892.1,960.2 893.2,959.5C894.3,958.9 896.1,958.0 897.3,957.6C898.4,957.3 900.3,957.2 901.4,956.8C902.4,956.4 904.0,955.7 904.9,954.9C905.9,954.1 907.3,952.4 908.2,951.4C909.1,950.3 910.5,947.8 911.5,947.3C912.4,946.7 913.9,947.6 915.0,947.3C916.1,947.0 917.9,945.7 919.1,945.1C920.2,944.5 922.0,943.8 923.2,943.2C924.3,942.5 926.1,940.7 927.3,940.5C928.4,940.2 930.3,941.8 931.4,941.3C932.4,940.8 934.0,938.1 934.9,936.9C935.9,935.8 937.2,933.9 938.2,933.1C939.2,932.3 941.1,932.0 942.3,931.5C943.4,931.0 945.3,929.9 946.4,929.5C947.4,929.2 949.0,929.7 950.0,929.1C951.0,928.5 952.3,926.1 953.3,925.0C954.2,923.9 955.7,921.7 956.8,921.5C957.9,921.2 959.8,923.2 960.9,923.1C962.1,922.9 963.9,920.6 965.0,920.4C966.1,920.1 967.6,921.8 968.5,921.5C969.5,921.1 970.8,919.1 971.8,918.2C972.8,917.3 974.8,915.5 975.9,914.9C977.1,914.3 978.9,913.9 980.0,914.1C981.1,914.2 982.9,915.6 984.1,916.0C985.2,916.4 987.0,917.1 988.2,916.8C989.3,916.6 991.1,914.7 992.3,914.1C993.4,913.5 995.2,913.2 996.4,912.7C997.5,912.2 999.4,910.9 1000.5,910.5C1001.5,910.2 1003.0,909.6 1004.0,910.0C1005.0,910.4 1006.2,913.1 1007.3,913.3C1008.3,913.5 1010.3,912.1 1011.4,911.4C1012.4,910.6 1014.0,908.2 1014.9,907.8C1015.9,907.4 1017.2,908.3 1018.2,908.6C1019.2,909.0 1021.1,910.4 1022.3,910.5C1023.4,910.7 1025.2,909.7 1026.4,909.5C1027.5,909.2 1029.4,908.9 1030.5,908.6C1031.5,908.3 1033.1,906.9 1034.0,907.3C1034.9,907.7 1036.0,910.0 1036.7,911.4C1037.5,912.7 1038.7,915.2 1039.5,916.8C1040.2,918.5 1041.5,922.4 1042.2,923.1C1042.8,923.7 1043.6,922.7 1044.1,921.5C1044.6,920.2 1045.4,916.1 1046.0,914.1C1046.6,912.1 1047.6,908.2 1048.2,907.3C1048.8,906.4 1049.7,907.1 1050.4,907.8C1051.1,908.6 1052.3,911.7 1053.1,912.7C1053.9,913.8 1055.1,915.6 1055.8,915.5C1056.6,915.3 1057.8,912.7 1058.5,911.4C1059.3,910.0 1060.5,906.6 1061.3,905.9C1062.0,905.3 1063.2,906.3 1064.0,906.7C1064.8,907.1 1065.9,908.5 1066.7,908.6C1067.6,908.8 1069.2,907.4 1070.0,907.8C1070.8,908.2 1071.9,910.1 1072.7,911.4C1073.6,912.6 1075.0,915.5 1076.0,916.8C1077.0,918.2 1078.5,919.8 1079.5,920.9C1080.6,922.1 1082.5,924.0 1083.6,925.0C1084.8,926.0 1086.6,927.2 1087.7,927.7C1088.9,928.3 1090.5,928.8 1091.8,929.1C1093.2,929.4 1095.9,929.2 1097.3,929.6C1098.6,930.1 1100.2,931.5 1101.4,932.4C1102.5,933.2 1104.3,934.9 1105.5,935.9C1106.6,936.9 1108.4,938.5 1109.5,939.5C1110.7,940.4 1112.5,942.0 1113.6,942.7C1114.8,943.5 1116.6,944.1 1117.7,944.9C1118.9,945.7 1120.7,947.6 1121.8,948.7C1123.0,949.9 1124.8,952.1 1125.9,953.1C1127.1,954.1 1128.9,955.1 1130.0,955.8C1131.1,956.6 1132.9,957.7 1134.1,958.5C1135.2,959.4 1137.0,961.1 1138.2,961.8C1139.3,962.6 1141.1,963.3 1142.3,964.0C1143.4,964.7 1145.2,966.3 1146.4,966.7C1147.5,967.2 1149.5,966.6 1150.5,967.3C1151.4,967.9 1152.4,970.2 1153.2,971.4C1153.9,972.5 1155.0,974.5 1155.9,975.5C1156.8,976.4 1158.5,977.9 1159.5,978.2C1160.4,978.5 1161.8,977.6 1162.7,977.6C1163.6,977.7 1165.0,978.0 1166.0,978.7C1167.0,979.5 1168.6,982.0 1169.5,983.1C1170.5,984.2 1172.1,985.8 1173.1,986.4C1174.1,986.9 1175.8,986.9 1176.9,986.9C1178.1,986.9 1180.2,986.1 1181.3,986.4C1182.3,986.7 1183.6,988.3 1184.5,989.1C1185.5,989.9 1186.9,991.2 1187.8,991.8C1188.8,992.4 1190.3,992.9 1191.4,993.2C1192.4,993.5 1194.4,993.5 1195.5,994.0C1196.5,994.5 1197.8,996.1 1198.7,996.7C1199.7,997.4 1201.2,998.4 1202.3,998.6C1203.3,998.9 1205.2,998.4 1206.4,998.6C1207.5,998.8 1209.4,999.5 1210.5,1000.0C1211.5,1000.5 1213.0,1001.6 1214.0,1002.2C1215.0,1002.8 1216.2,1003.9 1217.3,1004.1C1218.3,1004.2 1220.3,1003.2 1221.4,1003.3C1222.4,1003.4 1224.0,1004.6 1224.9,1004.9C1225.9,1005.2 1227.3,1005.6 1228.2,1005.5C1229.1,1005.3 1230.6,1004.1 1231.5,1004.1C1232.3,1004.1 1233.3,1004.7 1234.2,1005.5C1235.1,1006.2 1236.7,1008.7 1237.7,1009.5C1238.7,1010.4 1240.3,1011.3 1241.3,1011.5C1242.2,1011.6 1243.5,1010.7 1244.5,1010.9C1245.6,1011.1 1247.5,1012.8 1248.6,1013.1C1249.8,1013.4 1251.6,1013.2 1252.7,1013.1C1253.9,1013.0 1255.7,1012.1 1256.8,1012.3C1258.0,1012.4 1259.9,1013.7 1260.9,1014.2C1261.9,1014.7 1263.2,1015.7 1264.2,1015.8C1265.1,1015.9 1266.8,1015.1 1267.7,1015.0C1268.6,1014.9 1269.6,1014.4 1270.5,1015.0C1271.3,1015.6 1273.0,1017.8 1274.0,1019.1C1275.0,1020.4 1276.4,1023.2 1277.3,1024.5C1278.1,1025.9 1279.0,1027.9 1280.0,1028.6C1281.0,1029.3 1283.0,1029.1 1284.1,1029.5C1285.2,1029.8 1286.7,1030.2 1287.6,1031.4C1288.6,1032.5 1290.0,1037.1 1290.9,1037.6C1291.8,1038.2 1293.2,1036.0 1294.2,1035.5C1295.1,1035.0 1296.8,1033.6 1297.7,1034.1C1298.6,1034.5 1299.7,1037.6 1300.5,1038.7C1301.2,1039.9 1302.3,1042.2 1303.2,1042.3C1304.1,1042.4 1305.8,1040.1 1306.7,1039.5C1307.7,1039.0 1309.2,1037.7 1310.0,1038.2C1310.8,1038.7 1311.9,1042.3 1312.7,1043.1C1313.6,1043.9 1315.2,1044.5 1316.0,1044.2C1316.8,1043.9 1318.0,1040.9 1318.7,1040.9C1319.5,1040.9 1320.7,1043.5 1321.5,1044.2C1322.2,1044.9 1323.4,1045.9 1324.2,1045.8C1324.9,1045.7 1326.1,1044.7 1326.9,1043.6C1327.7,1042.6 1328.9,1040.1 1329.6,1038.2C1330.4,1036.3 1331.6,1032.7 1332.4,1030.0C1333.1,1027.3 1334.3,1022.1 1335.1,1019.1C1335.9,1016.0 1337.1,1010.1 1337.8,1008.2C1338.5,1006.3 1339.4,1007.7 1340.0,1005.5C1340.6,1003.2 1341.6,995.3 1342.2,991.8C1342.8,988.4 1343.6,983.2 1344.1,980.9C1344.6,978.6 1345.4,976.0 1346.0,975.5C1346.6,974.9 1348.0,976.5 1348.7,976.8C1349.5,977.1 1350.7,978.0 1351.5,977.6C1352.2,977.3 1353.4,975.4 1354.2,974.1C1354.9,972.8 1356.1,970.0 1356.9,968.6C1357.7,967.3 1358.9,965.4 1359.6,964.5C1360.4,963.7 1361.6,962.4 1362.4,962.4C1363.1,962.4 1364.2,963.9 1365.1,964.5C1366.0,965.2 1367.8,966.7 1368.6,966.7C1369.5,966.7 1370.7,966.4 1371.4,964.5C1372.0,962.7 1372.8,956.7 1373.3,953.6C1373.8,950.6 1374.4,944.6 1374.9,942.7C1375.4,940.8 1376.3,939.6 1376.8,940.0C1377.4,940.4 1378.2,945.8 1378.7,945.5C1379.3,945.1 1380.3,939.8 1380.9,937.3C1381.5,934.8 1382.5,928.5 1383.1,927.7C1383.7,927.0 1384.5,929.7 1385.0,931.8C1385.5,933.9 1386.3,939.7 1386.9,942.7C1387.5,945.8 1388.4,951.7 1389.1,953.6C1389.8,955.5 1391.1,955.4 1391.8,956.4C1392.5,957.3 1393.4,958.5 1394.0,960.5C1394.6,962.4 1395.3,967.3 1395.9,970.0C1396.6,972.7 1397.9,977.2 1398.6,979.5C1399.4,981.9 1400.6,986.0 1401.4,986.9C1402.1,987.9 1403.3,988.0 1404.1,986.4C1404.9,984.8 1406.1,980.0 1406.8,975.5C1407.6,970.9 1408.8,960.5 1409.5,953.6C1410.3,946.8 1411.5,934.0 1412.3,926.4C1413.0,918.7 1414.2,906.7 1415.0,899.1C1415.8,891.5 1417.0,879.5 1417.7,871.8C1418.5,864.2 1419.7,851.4 1420.5,844.5C1421.2,837.7 1422.4,826.7 1423.2,822.7C1423.9,818.7 1425.0,816.7 1425.9,815.9C1426.8,815.1 1428.5,816.1 1429.5,817.3C1430.4,818.4 1431.8,821.0 1432.7,824.1C1433.6,827.1 1435.0,833.6 1436.0,839.1C1437.0,844.6 1438.6,856.0 1439.5,863.6C1440.5,871.3 1442.1,884.9 1443.1,893.6C1444.0,902.4 1445.5,917.2 1446.4,926.4C1447.2,935.5 1448.4,950.7 1449.1,959.1C1449.8,967.5 1451.0,980.6 1451.3,986.4C1451.3,992.1 1451.3,995.0 1451.3,1000.0C1451.5,1005.0 1452.6,1015.7 1453.2,1021.8C1453.7,1027.9 1454.5,1037.9 1455.1,1043.6C1455.7,1049.4 1456.7,1058.0 1457.3,1062.7C1457.9,1067.5 1458.8,1074.5 1459.5,1077.7C1460.1,1081.0 1461.3,1084.3 1462.2,1085.9C1463.0,1087.6 1464.5,1088.9 1465.5,1089.5C1466.4,1090.0 1468.0,1091.1 1468.7,1090.0C1469.5,1088.9 1470.3,1084.7 1470.9,1081.8C1471.5,1079.0 1472.4,1071.8 1473.1,1069.5C1473.8,1067.3 1475.1,1065.6 1475.8,1065.5C1476.6,1065.3 1477.9,1066.7 1478.5,1068.2C1479.2,1069.7 1480.1,1072.9 1480.7,1076.4C1481.3,1079.8 1482.3,1087.8 1482.9,1092.7C1483.5,1097.7 1484.5,1106.5 1485.1,1111.8C1485.7,1117.2 1486.7,1125.6 1487.3,1130.9C1487.9,1136.3 1488.8,1144.7 1489.5,1150.0C1490.1,1155.3 1491.0,1163.7 1491.6,1169.1C1492.2,1174.4 1493.2,1182.8 1493.8,1188.2C1494.4,1193.5 1495.4,1202.3 1496.0,1207.3C1496.6,1212.2 1497.5,1219.4 1498.2,1223.6C1498.9,1227.8 1500.2,1235.0 1500.9,1237.3C1501.6,1239.6 1502.5,1240.4 1503.1,1240.0C1503.7,1239.6 1504.6,1236.5 1505.3,1234.5C1505.9,1232.6 1507.1,1226.6 1507.7,1225.8C1508.3,1225.1 1509.1,1227.5 1509.6,1229.1C1510.2,1230.7 1511.2,1235.9 1511.8,1237.3C1512.4,1238.6 1513.4,1239.4 1514.0,1238.6C1514.6,1237.9 1515.5,1235.1 1516.2,1231.8C1516.8,1228.6 1518.0,1220.4 1518.6,1215.5C1519.3,1210.5 1520.2,1201.7 1520.8,1196.4C1521.4,1191.0 1522.2,1183.0 1522.7,1177.3C1523.3,1171.5 1524.3,1161.6 1524.9,1155.5C1525.5,1149.3 1526.3,1140.1 1526.8,1133.6C1527.4,1127.1 1528.2,1115.6 1528.7,1109.1C1529.2,1102.6 1529.9,1093.8 1530.4,1087.3C1530.9,1080.8 1531.8,1069.2 1532.3,1062.7C1532.7,1056.2 1533.3,1052.4 1533.6,1040.9C1534.0,1029.5 1534.5,995.0 1535.0,980.9C1535.5,966.8 1536.3,950.7 1536.9,940.0C1537.5,929.3 1538.5,913.3 1539.1,904.5C1539.7,895.8 1540.6,883.6 1541.3,877.3C1542.0,871.0 1543.3,862.4 1544.0,859.5C1544.7,856.7 1545.5,856.2 1546.2,856.8C1546.8,857.4 1547.9,861.2 1548.6,863.6C1549.4,866.1 1550.5,872.4 1551.4,874.5C1552.2,876.6 1554.0,877.7 1554.9,878.6C1555.9,879.6 1557.3,880.0 1558.2,881.4C1559.0,882.7 1560.1,886.7 1560.9,888.2C1561.7,889.7 1563.2,891.8 1564.2,892.3C1565.1,892.7 1566.7,891.3 1567.7,891.5C1568.7,891.6 1570.4,891.6 1571.3,893.1C1572.2,894.5 1573.2,899.5 1574.0,901.8C1574.8,904.2 1575.9,907.5 1576.7,910.0C1577.6,912.5 1579.1,917.1 1580.0,919.5C1580.9,922.0 1582.3,926.1 1583.3,927.7C1584.2,929.4 1585.8,930.7 1586.8,931.3C1587.8,931.8 1589.4,932.1 1590.4,931.8C1591.3,931.5 1592.8,930.2 1593.6,929.1C1594.5,927.9 1595.5,924.8 1596.4,923.6C1597.2,922.5 1598.8,920.5 1599.6,920.9C1600.5,921.3 1601.6,924.5 1602.4,926.4C1603.1,928.3 1604.2,932.3 1605.1,934.5C1606.0,936.8 1607.6,940.8 1608.6,942.7C1609.6,944.6 1611.2,947.2 1612.2,948.2C1613.1,949.1 1614.6,950.3 1615.5,949.5C1616.3,948.8 1617.4,945.2 1618.2,942.7C1618.9,940.2 1620.1,934.9 1620.9,931.8C1621.7,928.8 1622.8,923.4 1623.6,920.9C1624.5,918.4 1626.1,916.4 1626.9,914.1C1627.7,911.8 1628.9,906.8 1629.6,904.5C1630.4,902.3 1631.5,899.1 1632.4,897.7C1633.2,896.4 1634.9,896.0 1635.9,895.0C1636.9,894.0 1638.5,892.2 1639.5,890.9C1640.4,889.6 1641.8,887.0 1642.7,886.0C1643.6,885.0 1645.0,884.1 1646.0,884.1C1647.0,884.1 1648.7,884.9 1649.5,886.0C1650.4,887.1 1651.5,889.7 1652.3,892.3C1653.0,894.9 1654.2,899.8 1655.0,904.5C1655.8,909.3 1657.0,920.4 1657.7,926.4C1658.5,932.3 1659.7,942.2 1660.5,946.8C1661.2,951.4 1662.4,958.5 1663.2,959.1C1663.9,959.7 1665.1,955.5 1665.9,950.9C1666.7,946.3 1667.9,933.2 1668.6,926.4C1669.4,919.5 1670.6,906.6 1671.4,901.8C1672.1,897.0 1673.3,892.7 1674.1,892.3C1674.9,891.9 1676.1,895.5 1676.8,899.1C1677.6,902.7 1678.8,912.5 1679.5,918.2C1680.3,923.9 1681.5,935.2 1682.3,940.0C1683.0,944.8 1684.2,950.4 1685.0,952.3C1685.8,954.2 1687.0,955.0 1687.7,953.6C1688.5,952.3 1689.8,948.8 1690.5,942.7C1691.1,936.6 1691.9,918.4 1692.4,910.0C1692.9,901.6 1693.6,887.1 1694.0,882.7C1694.4,878.3 1695.0,877.1 1695.4,878.6C1695.7,880.2 1696.3,886.2 1696.7,893.6C1697.2,901.1 1698.1,920.4 1698.6,931.8C1699.2,943.3 1700.0,962.9 1700.5,975.5C1701.1,988.1 1702.3,1006.3 1702.7,1021.8C1703.1,1037.3 1703.0,1073.9 1703.5,1086.0C1704.0,1098.1 1705.4,1104.9 1706.0,1108.0C1706.6,1111.1 1707.0,1110.8 1707.5,1108.0C1708.0,1105.2 1709.0,1097.5 1709.5,1088.0C1710.0,1078.5 1710.7,1052.3 1711.0,1040.0C1711.3,1027.7 1711.4,1012.7 1711.5,1000.0C1711.5,987.3 1711.5,962.6 1711.5,949.1C1711.7,935.6 1712.0,916.4 1712.3,903.6C1712.5,890.9 1712.9,869.0 1713.2,858.2C1713.5,847.4 1714.0,831.9 1714.3,826.4C1714.6,820.8 1715.1,818.4 1715.5,818.4C1715.8,818.4 1716.3,820.8 1716.6,826.4C1716.9,831.9 1717.4,847.4 1717.7,858.2C1718.0,869.0 1718.5,890.9 1718.9,903.6C1719.2,916.4 1719.7,938.0 1720.0,949.1C1720.3,960.2 1720.8,972.9 1720.9,983.2C1721.0,993.5 1720.9,1012.4 1721.0,1022.7C1721.1,1033.0 1721.3,1047.3 1721.6,1056.8C1721.8,1066.4 1722.5,1081.4 1722.7,1090.9C1723.0,1100.5 1723.2,1115.5 1723.4,1125.0C1723.7,1134.5 1724.2,1150.5 1724.5,1159.1C1724.9,1167.7 1725.5,1180.0 1725.9,1186.4C1726.4,1192.7 1727.2,1200.1 1727.7,1204.5C1728.3,1209.0 1729.3,1214.8 1730.0,1218.2C1730.7,1221.5 1732.1,1227.1 1733.0,1228.4C1733.8,1229.7 1735.1,1227.9 1735.9,1227.3C1736.7,1226.6 1737.9,1225.5 1738.6,1223.9C1739.3,1222.3 1740.3,1216.4 1740.9,1215.9C1741.5,1215.4 1742.5,1218.5 1743.2,1220.5C1743.8,1222.4 1744.8,1227.7 1745.5,1229.5C1746.2,1231.4 1747.5,1233.5 1748.2,1233.6C1748.9,1233.8 1749.8,1233.2 1750.5,1230.7C1751.1,1228.2 1752.2,1220.8 1752.7,1215.9C1753.3,1211.0 1754.0,1201.5 1754.5,1195.5C1755.1,1189.4 1755.9,1178.8 1756.4,1172.7C1756.8,1166.7 1757.4,1157.7 1758.0,1152.3C1758.5,1146.9 1759.6,1138.5 1760.2,1134.1C1760.9,1129.6 1761.8,1124.0 1762.5,1120.5C1763.2,1117.0 1764.7,1112.6 1765.5,1109.1C1766.2,1105.6 1767.0,1098.2 1767.7,1095.5C1768.4,1092.8 1769.8,1092.3 1770.5,1089.8C1771.2,1087.2 1772.1,1080.6 1772.7,1077.3C1773.4,1073.9 1774.3,1068.8 1775.0,1065.9C1775.7,1063.0 1777.0,1059.7 1777.7,1056.8C1778.4,1054.0 1779.4,1048.6 1780.0,1045.5C1780.6,1042.3 1781.2,1036.2 1781.8,1034.1C1782.5,1032.0 1783.8,1030.7 1784.5,1030.7C1785.3,1030.7 1786.8,1032.5 1787.5,1034.1C1788.2,1035.7 1789.1,1040.6 1789.8,1042.0C1790.4,1043.5 1791.4,1044.8 1792.0,1044.3C1792.7,1043.8 1793.8,1041.0 1794.3,1038.6C1794.9,1036.2 1795.6,1031.5 1795.9,1027.3C1796.2,1023.0 1796.2,1012.8 1796.4,1008.2C1796.6,1003.6 1797.0,999.6 1797.3,994.5C1797.5,989.5 1797.9,978.2 1798.2,971.8C1798.4,965.5 1798.8,955.5 1799.1,949.1C1799.3,942.7 1799.7,933.4 1800.0,926.4C1800.3,919.4 1800.7,906.1 1800.9,899.1C1801.2,892.1 1801.6,880.5 1801.8,876.4C1802.1,872.2 1802.4,869.9 1802.7,869.5C1803.0,869.2 1803.5,870.9 1803.9,874.1C1804.2,877.3 1804.7,886.5 1805.0,892.3C1805.3,898.0 1805.7,909.0 1805.9,915.0C1806.2,921.0 1806.4,931.0 1806.8,935.5C1807.2,939.9 1808.1,944.0 1808.6,946.8C1809.2,949.7 1810.2,953.5 1810.9,955.9C1811.6,958.3 1812.9,963.5 1813.6,963.9C1814.3,964.2 1815.3,960.2 1815.9,958.2C1816.5,956.1 1817.4,951.3 1818.2,949.1C1819.0,946.9 1820.8,944.2 1821.6,942.3C1822.4,940.4 1823.2,937.7 1823.9,935.5C1824.5,933.2 1825.5,929.2 1826.1,926.4C1826.8,923.5 1827.7,917.9 1828.4,915.0C1829.1,912.1 1830.6,908.1 1831.4,905.9C1832.2,903.7 1833.4,901.0 1834.1,899.1C1834.8,897.2 1835.8,894.8 1836.4,892.3C1836.9,889.7 1837.7,884.1 1838.2,880.9C1838.7,877.7 1839.3,872.4 1839.8,869.5C1840.2,866.7 1840.9,862.5 1841.4,860.5C1841.8,858.4 1842.6,855.1 1843.2,854.8C1843.8,854.5 1844.9,856.4 1845.5,858.2C1846.0,859.9 1846.8,865.4 1847.3,867.3C1847.8,869.2 1848.4,872.5 1848.9,871.8C1849.3,871.2 1849.9,864.3 1850.5,862.7C1851.0,861.1 1852.0,860.6 1852.7,860.5C1853.5,860.3 1854.8,861.3 1855.7,861.6C1856.6,861.8 1858.1,862.3 1859.1,862.3C1860.0,862.3 1861.6,861.2 1862.5,861.6C1863.4,862.0 1864.7,864.0 1865.5,865.0C1866.2,866.0 1867.4,868.6 1868.2,868.4C1868.9,868.2 1870.1,865.0 1870.9,863.9C1871.7,862.8 1873.0,861.6 1873.9,860.5C1874.7,859.3 1876.0,857.2 1876.8,855.9C1877.6,854.6 1878.8,852.4 1879.5,851.4C1880.3,850.3 1881.5,848.6 1882.3,848.6C1883.1,848.6 1884.4,850.4 1885.2,851.4C1886.1,852.3 1887.3,854.8 1888.2,855.5C1889.0,856.2 1890.5,856.5 1891.4,856.4C1892.2,856.3 1893.6,855.6 1894.3,854.8C1895.0,853.9 1896.0,852.0 1896.6,850.2C1897.1,848.5 1897.7,844.8 1898.2,842.3C1898.7,839.7 1899.4,834.6 1900.0,832.0C1900.6,829.5 1901.6,825.7 1902.3,824.1C1903.0,822.5 1904.3,820.8 1905.0,820.7C1905.7,820.5 1906.7,821.5 1907.3,823.0C1907.8,824.4 1908.6,827.9 1909.1,830.9C1909.6,833.9 1910.4,841.0 1910.9,844.5C1911.4,848.0 1912.2,853.4 1912.7,855.9C1913.3,858.4 1914.2,861.5 1914.8,862.3C1915.4,863.1 1916.4,862.3 1917.0,861.6C1917.7,860.9 1918.7,858.6 1919.3,857.0C1920.0,855.5 1921.0,852.5 1921.6,850.2C1922.2,848.0 1923.2,843.8 1923.9,841.1C1924.5,838.4 1925.5,833.5 1926.1,830.9C1926.8,828.4 1927.8,824.4 1928.4,823.0C1929.0,821.5 1930.0,820.2 1930.7,820.7C1931.3,821.2 1932.3,823.8 1933.0,826.4C1933.6,828.9 1934.7,836.0 1935.2,838.9C1935.8,841.7 1936.4,847.3 1936.8,846.8C1937.2,846.3 1937.8,839.4 1938.2,835.5C1938.6,831.5 1939.3,819.0 1939.8,818.4C1940.2,817.8 1940.9,827.1 1941.4,830.9C1941.8,834.7 1942.3,843.1 1942.7,845.7C1943.1,848.2 1943.9,850.5 1944.3,849.1C1944.7,847.7 1945.1,839.9 1945.5,835.5C1945.8,831.0 1946.3,817.9 1946.6,817.3C1946.9,816.6 1947.6,829.0 1947.7,830.9" stroke="#000000" stroke-width="4.3"/>
<line x1="1467.7" y1="184.9" x2="1467.7" y2="1310" stroke="#ff3636" stroke-width="3.8" stroke-dasharray="17 14.05"/>
<line x1="1496.9" y1="184.3" x2="1496.9" y2="1307" stroke="#ff3636" stroke-width="3.8" stroke-dasharray="17 14.05"/>
<rect x="203" y="38.5" width="1771" height="1294" fill="none" stroke="#000" stroke-width="4"/>
<g class="ax">
<line x1="203.0" y1="1332.0" x2="203.0" y2="1359.0"/>
<line x1="331.2" y1="1332.0" x2="331.2" y2="1347.0"/>
<line x1="459.4" y1="1332.0" x2="459.4" y2="1359.0"/>
<line x1="587.6" y1="1332.0" x2="587.6" y2="1347.0"/>
<line x1="715.8" y1="1332.0" x2="715.8" y2="1359.0"/>
<line x1="844.0" y1="1332.0" x2="844.0" y2="1347.0"/>
<line x1="972.2" y1="1332.0" x2="972.2" y2="1359.0"/>
<line x1="1100.4" y1="1332.0" x2="1100.4" y2="1347.0"/>
<line x1="1228.6" y1="1332.0" x2="1228.6" y2="1359.0"/>
<line x1="1356.8" y1="1332.0" x2="1356.8" y2="1347.0"/>
<line x1="1485.0" y1="1332.0" x2="1485.0" y2="1359.0"/>
<line x1="1613.2" y1="1332.0" x2="1613.2" y2="1347.0"/>
<line x1="1741.4" y1="1332.0" x2="1741.4" y2="1359.0"/>
<line x1="1869.6" y1="1332.0" x2="1869.6" y2="1347.0"/>
</g>
<text x="203.0" y="1432" font-size="72" text-anchor="middle" textLength="157.5" lengthAdjust="spacingAndGlyphs">4000</text>
<text x="459.4" y="1432" font-size="72" text-anchor="middle" textLength="157.5" lengthAdjust="spacingAndGlyphs">3500</text>
<text x="715.8" y="1432" font-size="72" text-anchor="middle" textLength="157.5" lengthAdjust="spacingAndGlyphs">3000</text>
<text x="972.2" y="1432" font-size="72" text-anchor="middle" textLength="157.5" lengthAdjust="spacingAndGlyphs">2500</text>
<text x="1228.6" y="1432" font-size="72" text-anchor="middle" textLength="157.5" lengthAdjust="spacingAndGlyphs">2000</text>
<text x="1485.0" y="1432" font-size="72" text-anchor="middle" textLength="157.5" lengthAdjust="spacingAndGlyphs">1500</text>
<text x="1741.4" y="1432" font-size="72" text-anchor="middle" textLength="157.5" lengthAdjust="spacingAndGlyphs">1000</text>
<text x="219.5" y="131" font-size="78">(a)</text>
<text x="434.2" y="134.5" font-size="63.5" text-anchor="middle" textLength="113" lengthAdjust="spacingAndGlyphs">O-H</text>
<text x="640" y="121" font-size="65" text-anchor="middle" textLength="107" lengthAdjust="spacingAndGlyphs">N-H</text>
<text x="1421" y="163" font-size="64.5" text-anchor="middle" textLength="110.5" lengthAdjust="spacingAndGlyphs">N-H</text>
<text x="1284.5" y="403.5" font-size="64" text-anchor="middle" textLength="133" lengthAdjust="spacingAndGlyphs">1659</text>
<text x="666" y="550.5" font-size="60" text-anchor="middle" textLength="124" lengthAdjust="spacingAndGlyphs">3031</text>
<text x="666" y="1248" font-size="60" text-anchor="middle" textLength="124" lengthAdjust="spacingAndGlyphs">3041</text>
<text x="1390" y="1272.7" font-size="63.5" text-anchor="middle" textLength="135" lengthAdjust="spacingAndGlyphs">1542</text>
<text x="1583" y="1306.3" font-size="63.5" text-anchor="middle" textLength="134" lengthAdjust="spacingAndGlyphs">1476</text>
<text transform="translate(1708.5,707) rotate(-90)" font-size="62" text-anchor="middle" textLength="134" lengthAdjust="spacingAndGlyphs">1064</text>
<text transform="translate(1441,623) rotate(-90)" font-size="38.6" text-anchor="middle">decreased Intensity</text>
<text transform="translate(1564,659) rotate(-90)" font-size="38.6" text-anchor="middle">Increased Intensity</text>
<clipPath id="hb1"><rect x="335.0" y="174.0" width="170.7" height="1119.0"/></clipPath>
<path d="M331.0,131.6 L509.7,-40.9 M331.0,155.6 L509.7,-16.8 M331.0,179.7 L509.7,7.3 M331.0,203.8 L509.7,31.4 M331.0,227.9 L509.7,55.4 M331.0,252.0 L509.7,79.5 M331.0,276.0 L509.7,103.6 M331.0,300.1 L509.7,127.7 M331.0,324.2 L509.7,151.8 M331.0,348.3 L509.7,175.8 M331.0,372.4 L509.7,199.9 M331.0,396.4 L509.7,224.0 M331.0,420.5 L509.7,248.1 M331.0,444.6 L509.7,272.2 M331.0,468.7 L509.7,296.2 M331.0,492.8 L509.7,320.3 M331.0,516.8 L509.7,344.4 M331.0,540.9 L509.7,368.5 M331.0,565.0 L509.7,392.6 M331.0,589.1 L509.7,416.6 M331.0,613.2 L509.7,440.7 M331.0,637.2 L509.7,464.8 M331.0,661.3 L509.7,488.9 M331.0,685.4 L509.7,513.0 M331.0,709.5 L509.7,537.0 M331.0,733.6 L509.7,561.1 M331.0,757.6 L509.7,585.2 M331.0,781.7 L509.7,609.3 M331.0,805.8 L509.7,633.4 M331.0,829.9 L509.7,657.4 M331.0,854.0 L509.7,681.5 M331.0,878.0 L509.7,705.6 M331.0,902.1 L509.7,729.7 M331.0,926.2 L509.7,753.8 M331.0,950.3 L509.7,777.8 M331.0,974.4 L509.7,801.9 M331.0,998.4 L509.7,826.0 M331.0,1022.5 L509.7,850.1 M331.0,1046.6 L509.7,874.2 M331.0,1070.7 L509.7,898.2 M331.0,1094.8 L509.7,922.3 M331.0,1118.8 L509.7,946.4 M331.0,1142.9 L509.7,970.5 M331.0,1167.0 L509.7,994.6 M331.0,1191.1 L509.7,1018.6 M331.0,1215.2 L509.7,1042.7 M331.0,1239.2 L509.7,1066.8 M331.0,1263.3 L509.7,1090.9 M331.0,1287.4 L509.7,1115.0 M331.0,1311.5 L509.7,1139.0 M331.0,1335.6 L509.7,1163.1 M331.0,1359.6 L509.7,1187.2 M331.0,1383.7 L509.7,1211.3 M331.0,1407.8 L509.7,1235.4 M331.0,1431.9 L509.7,1259.4 M331.0,1456.0 L509.7,1283.5 M331.0,1480.0 L509.7,1307.6 M331.0,1504.1 L509.7,1331.7" stroke="#ff0000" stroke-width="3.4" fill="none" clip-path="url(#hb1)"/>
<rect x="335.0" y="174.0" width="170.7" height="1119.0" fill="none" stroke="#ff6a6a" stroke-width="1.6"/>
<clipPath id="hb2"><rect x="561.8" y="181.2" width="171.6" height="1114.8"/></clipPath>
<path d="M557.8,138.9 L737.4,-34.5 M557.8,162.9 L737.4,-10.5 M557.8,186.9 L737.4,13.5 M557.8,210.9 L737.4,37.5 M557.8,234.9 L737.4,61.5 M557.8,258.9 L737.4,85.5 M557.8,282.9 L737.4,109.5 M557.8,306.9 L737.4,133.5 M557.8,330.9 L737.4,157.5 M557.8,354.9 L737.4,181.5 M557.8,378.9 L737.4,205.5 M557.8,402.9 L737.4,229.5 M557.8,426.9 L737.4,253.5 M557.8,450.9 L737.4,277.5 M557.8,474.9 L737.4,301.5 M557.8,498.9 L737.4,325.5 M557.8,522.9 L737.4,349.5 M557.8,546.9 L737.4,373.5 M557.8,570.9 L737.4,397.5 M557.8,594.9 L737.4,421.5 M557.8,618.9 L737.4,445.5 M557.8,642.9 L737.4,469.5 M557.8,666.9 L737.4,493.5 M557.8,690.9 L737.4,517.5 M557.8,714.9 L737.4,541.5 M557.8,738.9 L737.4,565.5 M557.8,762.9 L737.4,589.5 M557.8,786.9 L737.4,613.5 M557.8,810.9 L737.4,637.5 M557.8,834.9 L737.4,661.5 M557.8,858.9 L737.4,685.5 M557.8,882.9 L737.4,709.5 M557.8,906.9 L737.4,733.5 M557.8,930.9 L737.4,757.5 M557.8,954.9 L737.4,781.5 M557.8,978.9 L737.4,805.5 M557.8,1002.9 L737.4,829.5 M557.8,1026.9 L737.4,853.5 M557.8,1050.9 L737.4,877.5 M557.8,1074.9 L737.4,901.5 M557.8,1098.9 L737.4,925.5 M557.8,1122.9 L737.4,949.5 M557.8,1146.9 L737.4,973.5 M557.8,1170.9 L737.4,997.5 M557.8,1194.9 L737.4,1021.5 M557.8,1218.9 L737.4,1045.5 M557.8,1242.9 L737.4,1069.5 M557.8,1266.9 L737.4,1093.5 M557.8,1290.9 L737.4,1117.5 M557.8,1314.9 L737.4,1141.5 M557.8,1338.9 L737.4,1165.5 M557.8,1362.9 L737.4,1189.5 M557.8,1386.9 L737.4,1213.5 M557.8,1410.9 L737.4,1237.5 M557.8,1434.9 L737.4,1261.5 M557.8,1458.9 L737.4,1285.5 M557.8,1482.9 L737.4,1309.5 M557.8,1506.9 L737.4,1333.5" stroke="#ff0000" stroke-width="3.4" fill="none" clip-path="url(#hb2)"/>
<rect x="561.8" y="181.2" width="171.6" height="1114.8" fill="none" stroke="#ff6a6a" stroke-width="1.6"/>
<line x1="1397.3" y1="475.7" x2="1372.9" y2="438.2" stroke="#333" stroke-width="1.8"/>
<path d="M1355.2,411 L1379.8,433.6 L1365.9,442.7 Z" fill="#000"/>
<line x1="1703" y1="566" x2="1691.6" y2="598.4" stroke="#333" stroke-width="1.8"/>
<path d="M1681,628.6 L1699.4,601.2 L1683.8,595.6 Z" fill="#000"/>
<line x1="1401" y1="568" x2="1401" y2="760" stroke="#444" stroke-width="1.8"/>
<path d="M1401,790 L1392.5,757.5 L1409.5,757.5 Z" fill="#000"/>
<line x1="1516.5" y1="1012" x2="1516.5" y2="462" stroke="#444" stroke-width="1.8"/>
<path d="M1516.5,433 L1508.3,464.5 L1524.7,464.5 Z" fill="#000"/>
<line x1="894" y1="654" x2="1035" y2="654" stroke="#ff0000" stroke-width="4.3"/>
<line x1="894" y1="731" x2="1035" y2="731" stroke="#000" stroke-width="4.3"/>
<text x="1050" y="675.5" font-size="64.5" textLength="139" lengthAdjust="spacingAndGlyphs">DMC</text>
<text x="1050.5" y="750.5" font-size="63" textLength="87" lengthAdjust="spacingAndGlyphs">CH</text>
<text transform="translate(105,730.5) rotate(-90)" font-size="73.4" text-anchor="middle">Intensity (a.u.)</text>
<text x="732" y="1548" font-size="71.2">Wavenumbers <tspan font-size="58">(</tspan>cm<tspan font-size="66" dy="-34" dx="4">-1</tspan><tspan font-size="58" dy="34" dx="2">)</tspan></text>
</g>
<g id="panel-b">
<path class="curve" d="M212.7,1920.2C214.0,1920.3 219.3,1920.8 221.8,1920.9C224.4,1921.0 228.6,1921.0 230.9,1920.9C233.2,1920.8 236.1,1919.9 238.2,1920.2C240.2,1920.4 243.7,1921.9 245.5,1922.7C247.2,1923.6 249.4,1926.1 250.9,1926.4C252.4,1926.6 254.7,1924.3 256.4,1924.5C258.0,1924.8 260.8,1927.8 262.5,1928.2C264.3,1928.5 267.4,1926.7 269.1,1927.1C270.8,1927.4 273.0,1929.6 274.5,1930.7C276.1,1931.9 278.2,1934.3 280.0,1935.5C281.8,1936.6 285.5,1938.2 287.3,1939.1C289.1,1940.0 291.5,1941.1 292.7,1941.6C294.0,1942.1 295.1,1942.9 296.4,1942.7C297.6,1942.5 300.3,1941.2 301.8,1940.2C303.3,1939.2 305.7,1936.8 307.3,1935.5C308.8,1934.1 311.2,1931.9 312.7,1930.7C314.3,1929.6 316.7,1928.2 318.2,1927.1C319.7,1926.0 322.1,1923.7 323.6,1922.7C325.2,1921.7 327.3,1920.2 329.1,1919.8C330.9,1919.5 334.3,1920.3 336.4,1920.2C338.4,1920.1 341.6,1919.5 343.6,1919.1C345.7,1918.7 348.9,1917.8 350.9,1917.3C352.9,1916.8 356.1,1915.9 358.2,1915.5C360.2,1915.0 363.7,1914.9 365.5,1914.4C367.2,1913.9 369.6,1911.8 370.9,1911.8C372.2,1911.9 373.3,1914.6 374.5,1914.7C375.8,1914.8 378.5,1913.2 380.0,1912.5C381.5,1911.9 383.9,1910.2 385.5,1910.0C387.0,1909.8 389.6,1911.1 390.9,1911.1C392.2,1911.1 393.3,1909.8 394.5,1910.0C395.8,1910.2 398.2,1912.3 400.0,1912.5C401.8,1912.8 405.2,1912.0 407.3,1911.8C409.3,1911.6 412.8,1911.3 414.5,1911.1C416.3,1910.8 418.2,1910.1 420.0,1910.0C421.8,1909.9 425.2,1910.1 427.3,1910.4C429.3,1910.6 432.5,1911.9 434.5,1911.8C436.6,1911.8 439.5,1910.3 441.8,1910.0C444.1,1909.7 448.6,1910.0 450.9,1910.0C453.2,1910.0 456.4,1909.6 458.2,1910.0C460.0,1910.4 461.9,1912.3 463.6,1912.5C465.4,1912.8 469.4,1912.2 470.9,1911.8C472.4,1911.5 473.3,1910.0 474.5,1910.0C475.8,1910.0 478.2,1911.6 480.0,1911.8C481.8,1912.1 485.5,1911.8 487.3,1911.8C489.1,1911.8 491.3,1911.4 492.7,1911.8C494.2,1912.2 496.2,1913.7 497.5,1914.7C498.7,1915.7 500.4,1917.8 501.8,1919.1C503.2,1920.4 505.7,1922.7 507.3,1923.8C508.8,1924.9 511.2,1926.2 512.7,1927.1C514.3,1928.0 516.7,1929.1 518.2,1930.0C519.7,1930.9 522.1,1933.0 523.6,1933.6C525.2,1934.3 527.6,1934.7 529.1,1934.7C530.6,1934.7 533.3,1933.3 534.5,1933.6C535.8,1934.0 537.3,1935.2 538.2,1937.3C539.1,1939.3 540.3,1945.1 541.1,1948.2C541.9,1951.2 542.9,1956.3 543.6,1959.1C544.3,1961.9 545.3,1966.6 546.2,1968.2C547.0,1969.8 548.6,1970.4 549.8,1970.7C551.0,1971.1 553.4,1970.3 554.5,1970.7C555.7,1971.1 556.9,1973.2 558.2,1973.6C559.5,1974.0 562.4,1974.4 563.6,1973.6C564.9,1972.9 566.3,1969.7 567.3,1968.2C568.3,1966.7 569.9,1964.0 570.9,1962.7C571.9,1961.5 573.6,1959.9 574.5,1959.1C575.5,1958.3 576.8,1955.7 577.5,1957.3C578.1,1958.8 578.9,1965.2 579.3,1970.0C579.7,1974.8 580.0,1988.3 580.4,1991.8C580.7,1995.4 581.5,1993.9 581.8,1995.5C582.2,1997.0 582.6,2002.7 582.9,2002.7C583.3,2002.7 584.0,2000.0 584.4,1995.5C584.7,1990.9 585.1,1976.1 585.5,1970.0C585.8,1963.9 586.1,1955.0 586.5,1951.8C587.0,1948.7 587.8,1947.5 588.4,1947.5C589.0,1947.5 590.1,1950.2 590.9,1951.8C591.7,1953.4 593.1,1957.3 593.8,1959.1C594.6,1960.9 595.6,1963.4 596.4,1964.5C597.1,1965.7 598.5,1967.1 599.3,1967.1C600.0,1967.1 601.0,1965.9 601.8,1964.5C602.7,1963.2 604.4,1959.1 605.5,1957.3C606.5,1955.5 608.1,1953.2 609.1,1951.8C610.1,1950.4 611.7,1949.2 612.7,1947.5C613.7,1945.7 615.3,1941.8 616.4,1939.1C617.4,1936.4 619.0,1930.6 620.0,1928.2C621.0,1925.8 622.6,1923.4 623.6,1922.0C624.7,1920.6 626.3,1919.1 627.3,1918.4C628.3,1917.6 629.9,1916.5 630.9,1916.5C631.9,1916.5 633.5,1917.8 634.5,1918.4C635.6,1919.0 637.2,1920.3 638.2,1920.9C639.2,1921.5 640.8,1922.7 641.8,1922.7C642.8,1922.7 644.4,1921.5 645.5,1920.9C646.5,1920.3 648.1,1919.1 649.1,1918.4C650.1,1917.6 651.5,1915.7 652.7,1915.5C654.0,1915.2 656.7,1916.5 658.2,1916.5C659.7,1916.5 662.1,1916.0 663.6,1915.5C665.2,1914.9 667.3,1913.4 669.1,1912.9C670.9,1912.4 674.3,1911.9 676.4,1911.8C678.4,1911.8 681.6,1912.4 683.6,1912.5C685.7,1912.7 688.9,1912.9 690.9,1912.9C692.9,1912.9 696.1,1912.7 698.2,1912.5C700.2,1912.4 703.7,1912.2 705.5,1911.8C707.2,1911.5 709.6,1910.3 710.9,1910.0C712.2,1909.7 713.3,1909.6 714.5,1910.0C715.8,1910.4 718.2,1912.3 720.0,1912.5C721.8,1912.8 725.2,1911.8 727.3,1911.8C729.3,1911.8 732.5,1912.3 734.5,1912.5C736.6,1912.8 740.0,1913.3 741.8,1913.6C743.6,1913.9 745.7,1914.7 747.3,1914.7C748.8,1914.7 750.9,1914.0 752.7,1913.6C754.5,1913.2 758.7,1912.0 760.0,1911.8C761.3,1911.7 760.0,1912.5 761.8,1912.5C763.6,1912.5 770.2,1912.0 772.7,1911.8C775.3,1911.6 778.0,1911.0 780.0,1911.1C782.0,1911.2 785.2,1912.0 787.3,1912.5C789.3,1913.1 792.5,1914.1 794.5,1914.7C796.6,1915.4 799.8,1916.7 801.8,1917.3C803.9,1917.9 807.1,1919.1 809.1,1919.1C811.1,1919.1 814.3,1917.8 816.4,1917.3C818.4,1916.8 821.6,1916.0 823.6,1915.5C825.7,1914.9 828.9,1914.0 830.9,1913.6C832.9,1913.2 835.9,1912.7 838.2,1912.5C840.5,1912.4 844.7,1912.4 847.3,1912.5C849.8,1912.7 854.3,1913.3 856.4,1913.6C858.4,1913.9 860.3,1914.9 861.8,1914.7C863.3,1914.6 865.7,1912.7 867.3,1912.5C868.8,1912.4 871.2,1913.3 872.7,1913.6C874.3,1913.9 876.4,1914.5 878.2,1914.7C880.0,1915.0 883.7,1915.3 885.5,1915.5C887.2,1915.7 889.4,1916.3 890.9,1916.2C892.4,1916.1 894.6,1915.1 896.4,1914.7C898.1,1914.4 901.6,1913.9 903.6,1913.6C905.7,1913.3 908.9,1912.9 910.9,1912.5C912.9,1912.2 916.1,1911.3 918.2,1911.1C920.2,1910.9 923.7,1911.0 925.5,1911.1C927.2,1911.2 929.6,1911.5 930.9,1911.8C932.2,1912.2 933.5,1913.7 934.5,1913.6C935.6,1913.5 937.2,1911.1 938.2,1911.1C939.2,1911.1 940.8,1913.6 941.8,1913.6C942.8,1913.6 944.2,1911.2 945.5,1911.1C946.7,1910.9 949.4,1912.0 950.9,1912.5C952.4,1913.1 954.8,1914.7 956.4,1914.7C957.9,1914.7 960.3,1913.1 961.8,1912.5C963.3,1912.0 965.7,1911.4 967.3,1911.1C968.8,1910.7 970.9,1910.3 972.7,1910.0C974.5,1909.7 978.2,1909.1 980.0,1909.3C981.8,1909.4 983.9,1910.6 985.5,1911.1C987.0,1911.5 989.4,1912.2 990.9,1912.5C992.4,1912.9 994.8,1913.3 996.4,1913.6C997.9,1913.9 1000.0,1914.6 1001.8,1914.7C1003.6,1914.9 1007.1,1915.0 1009.1,1914.7C1011.1,1914.4 1014.6,1912.7 1016.4,1912.5C1018.1,1912.4 1020.3,1913.6 1021.8,1913.6C1023.3,1913.6 1025.7,1912.9 1027.3,1912.5C1028.8,1912.2 1031.2,1911.4 1032.7,1911.1C1034.3,1910.7 1036.7,1909.8 1038.2,1910.0C1039.7,1910.2 1042.1,1911.9 1043.6,1912.5C1045.2,1913.2 1047.6,1914.7 1049.1,1914.7C1050.6,1914.7 1053.0,1912.7 1054.5,1912.5C1056.1,1912.4 1058.2,1913.5 1060.0,1913.6C1061.8,1913.8 1065.2,1913.5 1067.3,1913.6C1069.3,1913.8 1072.5,1914.2 1074.5,1914.7C1076.6,1915.2 1080.0,1916.9 1081.8,1917.3C1083.6,1917.7 1085.7,1917.8 1087.3,1917.6C1088.8,1917.5 1091.2,1916.6 1092.7,1916.2C1094.3,1915.8 1096.9,1914.7 1098.2,1914.7C1099.5,1914.7 1100.8,1916.2 1101.8,1916.2C1102.8,1916.2 1104.2,1915.2 1105.5,1914.7C1106.7,1914.2 1109.1,1913.0 1110.9,1912.5C1112.7,1912.1 1116.4,1911.7 1118.2,1911.8C1120.0,1912.0 1122.4,1913.1 1123.6,1913.6C1124.9,1914.1 1126.3,1915.0 1127.3,1915.5C1128.3,1915.9 1129.6,1916.6 1130.9,1916.5C1132.2,1916.4 1134.6,1915.1 1136.4,1914.7C1138.1,1914.3 1141.6,1913.9 1143.6,1913.6C1145.7,1913.3 1148.9,1912.7 1150.9,1912.5C1152.9,1912.4 1156.1,1912.6 1158.2,1912.5C1160.2,1912.4 1163.7,1912.0 1165.5,1911.8C1167.2,1911.6 1169.4,1911.0 1170.9,1911.1C1172.4,1911.2 1174.6,1912.4 1176.4,1912.5C1178.1,1912.6 1181.6,1911.9 1183.6,1911.8C1185.7,1911.7 1188.9,1911.6 1190.9,1911.8C1192.9,1912.1 1196.4,1913.1 1198.2,1913.6C1200.0,1914.1 1202.1,1914.9 1203.6,1915.5C1205.2,1916.0 1207.8,1917.2 1209.1,1917.6C1210.4,1918.0 1211.5,1918.5 1212.7,1918.4C1214.0,1918.2 1216.7,1917.0 1218.2,1916.5C1219.7,1916.1 1222.1,1915.7 1223.6,1915.5C1225.2,1915.2 1227.6,1915.1 1229.1,1914.7C1230.6,1914.3 1232.8,1913.0 1234.5,1912.5C1236.3,1912.1 1239.8,1911.9 1241.8,1911.8C1243.9,1911.7 1247.3,1911.7 1249.1,1911.8C1250.9,1912.0 1253.1,1912.4 1254.5,1912.9C1256.0,1913.4 1258.0,1914.3 1259.3,1915.5C1260.5,1916.6 1262.5,1919.1 1263.6,1920.9C1264.8,1922.7 1266.3,1925.9 1267.3,1928.2C1268.3,1930.5 1269.9,1934.2 1270.9,1937.3C1271.9,1940.3 1273.5,1945.9 1274.5,1950.0C1275.6,1954.1 1277.3,1961.3 1278.2,1966.4C1279.1,1971.5 1280.1,1981.7 1280.9,1986.4C1281.7,1991.1 1282.9,1995.8 1283.6,2000.0C1284.3,2004.2 1285.2,2011.8 1285.8,2016.4C1286.4,2020.9 1287.3,2028.1 1287.7,2032.7C1288.2,2037.3 1288.7,2044.5 1289.1,2049.1C1289.5,2053.7 1290.1,2060.5 1290.5,2065.5C1290.8,2070.4 1291.4,2079.2 1291.8,2084.5C1292.2,2089.9 1293.0,2097.7 1293.2,2103.6C1293.2,2109.6 1293.2,2120.1 1293.2,2127.3C1293.4,2134.4 1294.5,2146.1 1295.1,2154.5C1295.7,2162.9 1296.7,2178.5 1297.3,2187.3C1297.9,2196.1 1298.8,2208.9 1299.5,2217.3C1300.1,2225.7 1301.0,2239.3 1301.6,2247.3C1302.2,2255.3 1303.2,2267.3 1303.8,2274.5C1304.4,2281.8 1305.4,2293.0 1306.0,2299.1C1306.6,2305.2 1307.6,2314.6 1308.2,2318.2C1308.7,2321.8 1309.4,2325.4 1309.8,2325.0C1310.3,2324.6 1310.9,2320.2 1311.5,2315.5C1312.0,2310.7 1313.0,2297.4 1313.6,2290.9C1314.2,2284.4 1315.1,2274.4 1315.8,2269.1C1316.6,2263.7 1318.3,2258.1 1319.1,2252.7C1319.9,2247.4 1320.7,2237.8 1321.3,2230.9C1321.8,2224.0 1322.7,2211.3 1323.2,2203.6C1323.6,2196.0 1324.1,2184.0 1324.5,2176.4C1325.0,2168.7 1325.8,2156.7 1326.2,2149.1C1326.6,2141.5 1327.1,2127.0 1327.3,2121.8C1327.3,2116.6 1327.3,2117.0 1327.3,2111.8C1327.5,2106.6 1328.3,2092.2 1328.6,2084.5C1329.0,2076.9 1329.6,2064.9 1330.0,2057.3C1330.4,2049.6 1331.0,2037.6 1331.4,2030.0C1331.7,2022.4 1332.3,2009.6 1332.7,2002.7C1333.1,1995.9 1333.8,1985.2 1334.4,1980.9C1334.9,1976.6 1336.1,1973.5 1336.8,1972.2C1337.5,1970.8 1338.8,1970.9 1339.5,1971.4C1340.3,1971.8 1341.5,1974.1 1342.3,1975.5C1343.0,1976.8 1344.2,1980.0 1345.0,1980.9C1345.8,1981.9 1347.0,1982.8 1347.7,1982.3C1348.5,1981.7 1349.7,1979.3 1350.5,1976.8C1351.2,1974.3 1352.4,1967.8 1353.2,1964.5C1353.9,1961.3 1355.0,1956.9 1355.9,1953.6C1356.9,1950.4 1358.9,1944.2 1360.0,1941.4C1361.1,1938.5 1362.9,1935.2 1364.1,1933.2C1365.2,1931.2 1367.0,1928.2 1368.2,1926.9C1369.3,1925.6 1371.1,1924.4 1372.3,1923.6C1373.4,1922.9 1375.2,1921.9 1376.4,1921.7C1377.5,1921.5 1379.4,1921.7 1380.5,1922.3C1381.5,1922.8 1383.0,1924.5 1384.0,1925.8C1385.0,1927.2 1386.4,1930.2 1387.3,1931.8C1388.2,1933.4 1389.8,1935.4 1390.5,1937.3C1391.3,1939.2 1392.2,1942.0 1392.7,1945.5C1393.3,1948.9 1393.9,1956.5 1394.4,1961.8C1394.8,1967.2 1395.5,1977.9 1396.0,1983.6C1396.5,1989.4 1397.1,1997.4 1397.6,2002.7C1398.1,2008.1 1399.0,2017.4 1399.5,2021.8C1400.1,2026.2 1401.0,2032.6 1401.5,2034.1C1402.0,2035.6 1402.6,2034.4 1403.1,2032.7C1403.6,2031.0 1404.5,2026.4 1405.0,2021.8C1405.5,2017.2 1406.3,2005.7 1406.9,2000.0C1407.5,1994.3 1408.4,1985.9 1409.1,1980.9C1409.8,1975.9 1411.1,1968.4 1411.8,1964.5C1412.6,1960.7 1413.6,1956.3 1414.5,1953.6C1415.5,1951.0 1417.5,1947.2 1418.6,1945.5C1419.8,1943.7 1421.6,1942.2 1422.7,1941.4C1423.9,1940.5 1425.7,1939.6 1426.8,1939.2C1428.0,1938.7 1429.8,1938.2 1430.9,1938.1C1432.1,1938.0 1433.9,1938.2 1435.0,1938.6C1436.1,1939.1 1437.7,1940.0 1438.5,1941.4C1439.4,1942.7 1440.6,1945.3 1441.3,1948.2C1441.9,1951.0 1442.7,1956.9 1443.2,1961.8C1443.6,1966.8 1444.2,1977.9 1444.5,1983.6C1444.9,1989.4 1445.5,1996.6 1445.9,2002.7C1446.3,2008.8 1446.9,2021.7 1447.3,2027.3C1447.7,2032.8 1448.3,2040.7 1448.6,2042.3C1449.0,2043.8 1449.6,2040.1 1450.0,2038.2C1450.4,2036.3 1451.0,2030.4 1451.4,2028.6C1451.7,2026.9 1452.3,2025.3 1452.7,2025.9C1453.1,2026.5 1454.0,2028.7 1454.4,2032.7C1454.7,2036.7 1455.1,2048.4 1455.5,2054.5C1455.8,2060.7 1456.4,2071.0 1456.8,2076.4C1457.2,2081.7 1457.8,2089.7 1458.2,2092.7C1458.6,2095.8 1459.4,2098.6 1459.8,2098.2C1460.3,2097.8 1461.0,2093.8 1461.5,2090.0C1461.9,2086.2 1462.6,2076.3 1463.1,2070.9C1463.6,2065.6 1464.5,2056.6 1465.0,2051.8C1465.5,2047.0 1466.3,2039.9 1466.9,2036.8C1467.5,2033.7 1468.4,2030.6 1469.1,2029.5C1469.8,2028.3 1471.1,2028.2 1471.8,2028.6C1472.6,2029.1 1473.8,2031.5 1474.5,2032.7C1475.3,2034.0 1476.3,2036.4 1477.3,2037.6C1478.2,2038.9 1480.2,2040.4 1481.4,2041.5C1482.5,2042.5 1484.4,2044.5 1485.5,2045.0C1486.5,2045.5 1487.9,2045.6 1488.7,2045.0C1489.6,2044.4 1490.7,2041.7 1491.5,2040.9C1492.2,2040.1 1493.4,2039.5 1494.2,2039.5C1494.9,2039.6 1496.1,2040.5 1496.9,2041.5C1497.7,2042.4 1498.8,2045.1 1499.6,2046.4C1500.5,2047.6 1502.1,2049.7 1503.2,2050.5C1504.3,2051.2 1506.3,2051.2 1507.3,2051.8C1508.2,2052.4 1509.4,2052.6 1510.0,2054.5C1510.6,2056.5 1511.2,2061.3 1511.6,2065.5C1512.1,2069.7 1512.8,2079.2 1513.3,2084.5C1513.7,2089.9 1514.5,2097.9 1514.9,2103.6C1515.4,2109.4 1516.3,2122.1 1516.5,2125.5C1516.6,2128.8 1516.5,2123.2 1516.6,2127.3C1516.8,2131.3 1517.7,2146.9 1518.2,2154.5C1518.7,2162.2 1519.7,2174.2 1520.4,2181.8C1521.1,2189.5 1522.3,2202.2 1523.1,2209.1C1523.9,2216.0 1525.1,2225.6 1525.8,2230.9C1526.6,2236.3 1528.0,2244.6 1528.5,2247.3C1529.1,2249.9 1529.5,2251.5 1529.9,2250.0C1530.4,2248.5 1531.2,2241.3 1531.8,2236.4C1532.4,2231.4 1533.3,2220.3 1534.0,2214.5C1534.7,2208.8 1536.0,2200.8 1536.7,2195.5C1537.4,2190.1 1538.4,2182.1 1538.9,2176.4C1539.4,2170.6 1540.1,2161.4 1540.5,2154.5C1541.0,2147.7 1541.9,2131.3 1542.2,2127.3C1542.2,2123.2 1542.2,2130.3 1542.2,2125.5C1542.4,2120.6 1542.9,2101.1 1543.3,2092.7C1543.6,2084.3 1544.4,2071.9 1544.9,2065.5C1545.4,2059.0 1546.3,2049.8 1546.8,2046.4C1547.4,2042.9 1548.2,2041.3 1548.7,2040.9C1549.3,2040.5 1550.3,2042.3 1550.9,2043.6C1551.5,2045.0 1552.5,2049.3 1553.1,2050.5C1553.7,2051.6 1554.7,2052.8 1555.3,2051.8C1555.9,2050.9 1556.8,2046.3 1557.5,2043.6C1558.1,2041.0 1559.0,2035.2 1559.6,2032.7C1560.2,2030.2 1561.1,2027.4 1561.8,2025.9C1562.5,2024.5 1563.8,2022.6 1564.5,2022.4C1565.3,2022.2 1566.6,2022.7 1567.3,2024.5C1568.0,2026.4 1568.8,2032.6 1569.5,2035.5C1570.1,2038.3 1571.5,2044.6 1572.2,2045.0C1572.9,2045.4 1573.8,2041.4 1574.4,2038.2C1575.0,2034.9 1575.9,2026.8 1576.5,2021.8C1577.2,2016.9 1578.1,2008.1 1578.7,2002.7C1579.3,1997.4 1580.3,1989.0 1580.9,1983.6C1581.5,1978.3 1582.5,1969.9 1583.1,1964.5C1583.7,1959.2 1584.7,1950.8 1585.3,1945.5C1585.9,1940.1 1586.9,1930.6 1587.5,1926.4C1588.0,1922.2 1588.7,1917.2 1589.1,1915.5C1589.5,1913.7 1589.9,1912.9 1590.2,1914.1C1590.5,1915.2 1591.0,1919.2 1591.3,1923.6C1591.6,1928.0 1592.1,1938.6 1592.4,1945.5C1592.7,1952.3 1593.1,1964.7 1593.5,1972.7C1593.8,1980.7 1594.2,1994.3 1594.5,2002.7C1594.9,2011.1 1595.5,2023.9 1595.9,2032.7C1596.3,2041.5 1596.9,2056.3 1597.3,2065.5C1597.7,2074.6 1598.5,2089.8 1598.9,2098.2C1599.4,2106.6 1600.2,2121.4 1600.5,2125.5C1600.9,2129.5 1600.8,2122.4 1601.1,2127.3C1601.4,2132.1 1602.3,2150.8 1602.7,2160.0C1603.2,2169.2 1603.9,2183.6 1604.4,2192.7C1604.8,2201.9 1605.5,2216.3 1606.0,2225.5C1606.5,2234.6 1607.2,2249.0 1607.6,2258.2C1608.1,2267.3 1608.7,2282.7 1609.0,2290.9C1609.3,2299.1 1609.7,2314.5 1610.1,2316.8C1610.4,2319.1 1611.0,2311.3 1611.5,2307.3C1611.9,2303.3 1612.6,2292.2 1613.1,2288.2C1613.6,2284.2 1614.5,2278.3 1615.0,2278.6C1615.5,2279.0 1616.0,2287.9 1616.4,2290.9C1616.7,2294.0 1617.3,2300.5 1617.7,2300.5C1618.1,2300.5 1618.7,2296.1 1619.1,2290.9C1619.5,2285.8 1620.0,2269.7 1620.5,2263.6C1620.9,2257.5 1621.7,2250.7 1622.4,2247.3C1623.0,2243.8 1624.4,2243.7 1625.1,2239.1C1625.8,2234.5 1626.7,2222.6 1627.3,2214.5C1627.9,2206.5 1628.9,2190.2 1629.5,2181.8C1630.0,2173.4 1630.7,2162.2 1631.1,2154.5C1631.5,2146.9 1632.0,2137.1 1632.2,2127.3C1632.4,2117.5 1632.5,2095.5 1632.7,2084.5C1633.0,2073.6 1633.7,2057.5 1634.1,2049.1C1634.5,2040.7 1635.0,2029.4 1635.5,2024.5C1635.9,2019.7 1636.9,2014.6 1637.4,2014.2C1637.9,2013.8 1638.5,2018.1 1639.0,2021.8C1639.5,2025.6 1640.3,2035.6 1640.9,2040.9C1641.5,2046.3 1642.5,2055.2 1643.1,2060.0C1643.7,2064.8 1644.5,2072.1 1645.0,2075.0C1645.5,2077.9 1646.4,2081.0 1646.9,2080.5C1647.4,2079.9 1648.1,2074.9 1648.5,2070.9C1649.0,2066.9 1649.5,2056.0 1649.9,2051.8C1650.3,2047.6 1650.9,2041.3 1651.3,2040.9C1651.7,2040.5 1652.5,2044.1 1652.9,2049.1C1653.4,2054.1 1654.1,2068.7 1654.5,2076.4C1655.0,2084.0 1655.7,2096.8 1656.2,2103.6C1656.6,2110.5 1657.4,2121.3 1657.8,2125.5C1658.3,2129.7 1659.0,2133.6 1659.5,2133.6C1659.9,2133.6 1660.6,2129.7 1661.1,2125.5C1661.5,2121.3 1662.3,2110.5 1662.7,2103.6C1663.2,2096.8 1663.9,2084.0 1664.4,2076.4C1664.8,2068.7 1665.5,2056.7 1666.0,2049.1C1666.5,2041.5 1667.1,2028.7 1667.6,2021.8C1668.1,2014.9 1669.0,2005.7 1669.5,2000.0C1670.1,1994.3 1670.9,1985.3 1671.5,1980.9C1672.0,1976.5 1673.1,1970.5 1673.6,1968.6C1674.2,1966.7 1674.8,1966.3 1675.3,1967.3C1675.7,1968.2 1676.5,1971.6 1676.9,1975.5C1677.4,1979.3 1678.0,1988.4 1678.5,1994.5C1679.0,2000.7 1679.9,2012.2 1680.5,2019.1C1681.0,2026.0 1681.8,2038.1 1682.4,2043.6C1682.9,2049.2 1683.9,2057.1 1684.5,2058.6C1685.2,2060.2 1686.2,2057.4 1686.7,2054.5C1687.3,2051.7 1688.1,2043.1 1688.6,2038.2C1689.2,2033.2 1690.0,2023.5 1690.5,2019.1C1691.1,2014.7 1692.2,2008.9 1692.7,2006.8C1693.3,2004.7 1694.1,2003.5 1694.6,2004.1C1695.2,2004.7 1696.0,2008.6 1696.5,2010.9C1697.1,2013.2 1698.0,2018.7 1698.7,2020.5C1699.4,2022.2 1700.8,2023.4 1701.5,2023.2C1702.1,2023.0 1703.0,2022.0 1703.6,2019.1C1704.2,2016.2 1705.2,2007.3 1705.8,2002.7C1706.4,1998.1 1707.4,1990.2 1708.0,1986.4C1708.6,1982.5 1709.7,1978.5 1710.5,1975.5C1711.2,1972.4 1712.4,1967.4 1713.2,1964.5C1713.9,1961.7 1715.1,1957.5 1715.9,1955.0C1716.7,1952.5 1717.9,1948.6 1718.6,1946.8C1719.4,1945.0 1720.6,1942.9 1721.4,1942.2C1722.1,1941.4 1723.3,1941.9 1724.1,1941.4C1724.9,1940.9 1726.1,1939.4 1726.8,1938.6C1727.6,1937.9 1728.9,1935.5 1729.5,1935.9C1730.2,1936.3 1731.0,1938.1 1731.5,1941.4C1732.0,1944.6 1732.7,1953.2 1733.1,1959.1C1733.5,1965.0 1734.1,1976.8 1734.5,1983.6C1734.8,1990.5 1735.4,2001.7 1735.8,2008.2C1736.2,2014.7 1736.8,2025.6 1737.2,2030.0C1737.6,2034.4 1738.1,2038.8 1738.5,2039.5C1739.0,2040.3 1739.7,2037.6 1740.2,2035.5C1740.6,2033.4 1741.3,2028.0 1741.8,2024.5C1742.4,2021.1 1743.4,2013.4 1744.0,2010.9C1744.6,2008.4 1745.5,2007.5 1746.2,2006.8C1746.9,2006.1 1748.1,2005.8 1748.9,2006.0C1749.7,2006.2 1751.3,2007.6 1752.2,2008.2C1753.1,2008.8 1754.4,2009.8 1755.5,2010.4C1756.5,2010.9 1758.5,2011.5 1759.5,2012.3C1760.6,2013.0 1762.1,2014.9 1763.1,2015.8C1764.0,2016.8 1765.3,2018.6 1766.4,2019.1C1767.4,2019.5 1769.4,2018.9 1770.5,2019.1C1771.5,2019.3 1773.0,2020.0 1774.0,2020.5C1775.0,2020.9 1776.2,2022.0 1777.3,2022.4C1778.3,2022.7 1780.2,2023.2 1781.4,2023.2C1782.5,2023.2 1784.4,2022.0 1785.5,2022.4C1786.5,2022.7 1787.9,2024.8 1788.7,2025.9C1789.6,2027.0 1790.8,2029.0 1791.5,2030.0C1792.1,2031.0 1792.8,2032.8 1793.6,2033.3C1794.5,2033.7 1796.6,2033.2 1797.7,2033.3C1798.9,2033.3 1800.7,2033.6 1801.8,2033.5C1803.0,2033.5 1805.0,2033.1 1805.9,2032.7C1806.9,2032.3 1807.9,2030.5 1808.6,2030.5C1809.4,2030.5 1810.7,2030.9 1811.4,2032.7C1812.0,2034.6 1812.8,2039.8 1813.3,2043.6C1813.8,2047.5 1814.5,2055.0 1814.9,2060.0C1815.3,2065.0 1815.9,2073.7 1816.3,2079.1C1816.7,2084.4 1817.3,2093.2 1817.6,2098.2C1818.0,2103.1 1818.6,2111.7 1819.0,2114.5C1819.4,2117.4 1819.9,2119.8 1820.4,2118.6C1820.8,2117.5 1821.5,2110.0 1822.0,2106.4C1822.5,2102.7 1823.2,2095.4 1823.6,2092.7C1824.1,2090.1 1824.8,2087.7 1825.3,2087.3C1825.7,2086.9 1826.5,2088.1 1826.9,2090.0C1827.4,2091.9 1828.0,2097.5 1828.5,2100.9C1829.0,2104.3 1829.9,2112.3 1830.5,2114.5C1831.0,2116.8 1831.9,2118.0 1832.4,2117.3C1832.9,2116.5 1833.5,2111.2 1834.0,2109.1C1834.5,2107.0 1835.4,2103.0 1835.9,2102.3C1836.4,2101.5 1837.3,2101.5 1837.8,2103.6C1838.3,2105.7 1839.0,2113.1 1839.5,2117.3C1840.0,2121.5 1840.8,2129.8 1841.4,2133.6C1841.9,2137.5 1842.8,2142.8 1843.3,2144.5C1843.8,2146.3 1844.5,2147.4 1844.9,2145.9C1845.4,2144.4 1846.1,2138.4 1846.5,2133.6C1847.0,2128.9 1847.7,2118.7 1848.2,2111.8C1848.6,2104.9 1849.4,2091.8 1849.8,2084.5C1850.3,2077.3 1850.9,2066.1 1851.5,2060.0C1852.0,2053.9 1852.9,2045.5 1853.6,2040.9C1854.3,2036.3 1855.6,2030.3 1856.4,2027.3C1857.1,2024.2 1858.3,2020.8 1859.1,2019.1C1859.9,2017.4 1861.1,2015.0 1861.8,2015.0C1862.5,2015.0 1863.4,2016.6 1864.0,2019.1C1864.6,2021.6 1865.4,2028.9 1865.9,2032.7C1866.4,2036.5 1867.2,2043.1 1867.8,2046.4C1868.5,2049.6 1869.7,2053.6 1870.5,2055.9C1871.4,2058.2 1873.2,2060.8 1874.1,2062.7C1875.0,2064.6 1876.1,2067.6 1876.8,2069.5C1877.6,2071.5 1878.8,2074.5 1879.5,2076.4C1880.3,2078.3 1881.5,2081.6 1882.3,2083.2C1883.0,2084.8 1884.2,2086.9 1885.0,2087.8C1885.8,2088.7 1886.8,2089.0 1887.7,2089.5C1888.6,2090.0 1890.5,2089.8 1891.3,2091.4C1892.0,2093.0 1892.6,2098.0 1893.2,2100.9C1893.7,2103.8 1894.5,2109.1 1895.1,2111.8C1895.7,2114.5 1896.6,2118.5 1897.3,2120.0C1898.0,2121.5 1899.2,2123.1 1900.0,2122.7C1900.8,2122.3 1902.0,2118.6 1902.7,2117.3C1903.5,2115.9 1904.8,2113.6 1905.5,2113.2C1906.1,2112.8 1907.1,2112.4 1907.6,2114.5C1908.2,2116.6 1908.8,2124.4 1909.3,2128.2C1909.7,2132.0 1910.4,2139.0 1910.9,2141.8C1911.4,2144.7 1912.5,2149.0 1913.1,2148.6C1913.7,2148.3 1914.5,2143.1 1915.0,2139.1C1915.5,2135.1 1916.4,2123.4 1916.9,2120.0C1917.4,2116.6 1918.1,2114.7 1918.5,2115.1C1919.0,2115.5 1919.7,2119.4 1920.2,2122.7C1920.6,2126.1 1921.3,2134.1 1921.8,2139.1C1922.4,2144.1 1923.4,2153.6 1924.0,2158.2C1924.6,2162.8 1925.5,2168.4 1925.9,2171.8C1926.4,2175.3 1926.9,2180.4 1927.3,2182.7C1927.7,2185.0 1928.3,2188.2 1928.6,2188.2C1929.0,2188.2 1929.6,2185.0 1930.0,2182.7C1930.4,2180.4 1930.9,2175.6 1931.4,2171.8C1931.8,2168.0 1932.7,2159.7 1933.3,2155.5C1933.8,2151.3 1934.8,2144.2 1935.5,2141.8C1936.1,2139.5 1936.9,2138.5 1937.6,2138.5C1938.3,2138.5 1939.5,2140.8 1940.4,2141.8C1941.2,2142.8 1942.7,2144.8 1943.6,2145.9C1944.6,2147.0 1946.1,2150.0 1946.9,2149.5C1947.7,2148.9 1948.9,2145.2 1949.6,2141.8C1950.3,2138.5 1951.2,2128.6 1951.8,2125.5C1952.4,2122.3 1953.4,2119.8 1954.0,2119.5C1954.6,2119.1 1955.6,2120.0 1956.2,2122.7C1956.8,2125.5 1957.8,2134.7 1958.4,2139.1C1959.0,2143.5 1959.9,2151.4 1960.5,2154.1C1961.2,2156.8 1962.0,2158.4 1962.7,2158.2C1963.4,2158.0 1964.7,2155.4 1965.5,2152.7C1966.2,2150.1 1967.4,2142.3 1968.2,2139.1C1968.9,2135.8 1970.2,2131.1 1970.9,2129.5C1971.6,2128.0 1972.5,2127.4 1973.1,2128.2C1973.7,2128.9 1974.5,2132.3 1975.0,2135.0C1975.5,2137.7 1976.3,2144.4 1976.9,2147.3C1977.5,2150.1 1978.5,2153.9 1979.1,2155.5C1979.7,2157.0 1981.0,2157.8 1981.3,2158.2" stroke="#0000ff" stroke-width="4.6"/>
<path class="curve" d="M212.7,2379.1C213.7,2379.3 218.0,2380.3 220.0,2380.9C222.0,2381.5 225.2,2383.0 227.3,2383.5C229.3,2383.9 232.5,2383.9 234.5,2383.8C236.6,2383.7 239.8,2383.0 241.8,2382.7C243.9,2382.4 247.1,2382.0 249.1,2381.6C251.1,2381.3 254.3,2380.7 256.4,2380.2C258.4,2379.7 261.6,2378.4 263.6,2378.0C265.7,2377.6 268.9,2377.4 270.9,2377.3C272.9,2377.2 276.4,2377.2 278.2,2377.3C280.0,2377.4 282.4,2378.3 283.6,2378.0C284.9,2377.7 286.0,2375.7 287.3,2375.5C288.5,2375.3 291.2,2376.3 292.7,2376.5C294.3,2376.8 296.7,2377.3 298.2,2377.3C299.7,2377.3 302.1,2376.8 303.6,2376.5C305.2,2376.3 307.3,2375.7 309.1,2375.5C310.9,2375.2 314.6,2375.0 316.4,2374.7C318.1,2374.5 320.3,2373.5 321.8,2373.6C323.3,2373.7 325.7,2375.4 327.3,2375.5C328.8,2375.5 330.9,2374.3 332.7,2374.0C334.5,2373.7 338.0,2373.7 340.0,2373.6C342.0,2373.6 345.2,2373.7 347.3,2373.6C349.3,2373.5 352.5,2372.9 354.5,2372.9C356.6,2372.9 359.8,2373.5 361.8,2373.6C363.9,2373.7 367.1,2373.6 369.1,2373.6C371.1,2373.6 374.3,2373.5 376.4,2373.6C378.4,2373.7 381.9,2374.1 383.6,2374.4C385.4,2374.6 387.6,2375.4 389.1,2375.5C390.6,2375.5 393.0,2374.6 394.5,2374.7C396.1,2374.9 398.5,2376.4 400.0,2376.5C401.5,2376.6 403.9,2375.5 405.5,2375.5C407.0,2375.4 409.4,2376.3 410.9,2376.2C412.4,2376.1 414.8,2374.9 416.4,2374.7C417.9,2374.5 420.3,2374.6 421.8,2374.7C423.3,2374.9 425.5,2375.6 427.3,2375.8C429.1,2376.0 432.5,2376.1 434.5,2376.2C436.6,2376.3 439.8,2376.6 441.8,2376.5C443.9,2376.5 447.3,2375.6 449.1,2375.8C450.9,2376.0 452.8,2377.4 454.5,2378.0C456.3,2378.6 459.8,2379.7 461.8,2380.2C463.9,2380.7 467.3,2381.6 469.1,2381.6C470.9,2381.6 473.0,2380.5 474.5,2380.2C476.1,2379.8 478.5,2379.3 480.0,2379.1C481.5,2378.8 483.9,2378.1 485.5,2378.4C487.0,2378.6 489.4,2380.0 490.9,2380.9C492.4,2381.8 494.8,2383.5 496.4,2384.5C497.9,2385.6 500.3,2387.6 501.8,2388.2C503.3,2388.8 505.7,2388.9 507.3,2388.9C508.8,2388.9 511.5,2388.4 512.7,2388.2C514.0,2388.0 515.3,2387.2 516.4,2387.5C517.4,2387.7 518.7,2389.3 520.0,2390.0C521.3,2390.7 523.9,2392.4 525.5,2392.5C527.0,2392.7 529.4,2391.6 530.9,2391.1C532.4,2390.6 534.8,2389.3 536.4,2388.9C537.9,2388.5 540.5,2388.1 541.8,2388.2C543.1,2388.2 544.3,2389.5 545.5,2389.3C546.6,2389.0 548.5,2387.2 549.8,2386.4C551.1,2385.5 553.4,2384.0 554.5,2383.5C555.7,2382.9 556.9,2382.5 558.2,2382.7C559.5,2383.0 562.1,2384.3 563.6,2385.3C565.2,2386.3 567.6,2388.6 569.1,2390.0C570.6,2391.4 573.0,2393.9 574.5,2395.5C576.1,2397.0 578.7,2399.8 580.0,2400.9C581.3,2402.0 582.6,2403.6 583.6,2403.5C584.7,2403.3 586.3,2401.0 587.3,2399.8C588.3,2398.6 589.6,2395.9 590.9,2394.7C592.2,2393.5 594.8,2391.7 596.4,2391.1C597.9,2390.5 600.4,2390.7 601.8,2390.7C603.2,2390.7 605.3,2391.4 606.5,2391.1C607.8,2390.7 609.5,2388.8 610.9,2388.2C612.3,2387.6 614.8,2387.0 616.4,2386.7C617.9,2386.5 620.3,2386.5 621.8,2386.4C623.3,2386.2 625.7,2385.7 627.3,2385.6C628.8,2385.6 631.2,2385.6 632.7,2386.0C634.3,2386.4 636.9,2387.8 638.2,2388.2C639.5,2388.6 640.8,2389.3 641.8,2388.9C642.8,2388.6 644.2,2386.9 645.5,2385.6C646.7,2384.4 649.4,2381.4 650.9,2380.2C652.4,2379.0 654.8,2377.8 656.4,2377.3C657.9,2376.7 660.3,2376.5 661.8,2376.2C663.3,2375.8 665.7,2375.1 667.3,2374.7C668.8,2374.4 671.2,2373.9 672.7,2373.6C674.3,2373.3 676.7,2372.9 678.2,2372.5C679.7,2372.2 682.4,2371.3 683.6,2371.1C684.9,2370.8 686.0,2370.5 687.3,2370.7C688.5,2370.9 691.2,2372.3 692.7,2372.5C694.3,2372.7 696.7,2372.4 698.2,2372.2C699.7,2371.9 702.1,2371.0 703.6,2370.7C705.2,2370.5 707.3,2370.3 709.1,2370.4C710.9,2370.4 714.3,2370.8 716.4,2371.1C718.4,2371.3 721.9,2372.2 723.6,2372.2C725.4,2372.2 727.6,2371.3 729.1,2371.1C730.6,2370.9 733.0,2370.6 734.5,2370.7C736.1,2370.9 739.2,2371.6 740.0,2372.2C740.0,2372.7 740.0,2374.5 740.0,2374.7C740.8,2374.9 743.9,2374.2 745.5,2373.6C747.0,2373.1 749.4,2371.3 750.9,2370.7C752.4,2370.1 754.8,2369.4 756.4,2369.3C757.9,2369.2 760.3,2369.7 761.8,2370.0C763.3,2370.3 765.7,2371.1 767.3,2371.1C768.8,2371.1 771.2,2370.3 772.7,2370.0C774.3,2369.7 776.7,2369.2 778.2,2369.3C779.7,2369.4 782.1,2370.2 783.6,2370.7C785.2,2371.2 787.6,2372.2 789.1,2372.9C790.6,2373.6 793.0,2374.7 794.5,2375.5C796.1,2376.2 798.5,2377.6 800.0,2378.0C801.5,2378.4 803.9,2378.5 805.5,2378.4C807.0,2378.3 809.4,2377.8 810.9,2377.3C812.4,2376.8 814.8,2375.3 816.4,2374.7C817.9,2374.1 820.3,2373.4 821.8,2372.9C823.3,2372.4 825.7,2371.4 827.3,2371.1C828.8,2370.8 831.2,2370.9 832.7,2370.7C834.3,2370.6 836.7,2370.2 838.2,2370.0C839.7,2369.8 842.1,2369.3 843.6,2369.3C845.2,2369.3 847.6,2369.6 849.1,2370.0C850.6,2370.4 853.0,2371.3 854.5,2371.8C856.1,2372.3 858.5,2373.2 860.0,2373.6C861.5,2374.0 863.9,2374.5 865.5,2374.7C867.0,2375.0 869.4,2375.2 870.9,2375.5C872.4,2375.7 874.8,2376.1 876.4,2376.5C877.9,2377.0 880.3,2377.9 881.8,2378.4C883.3,2378.9 885.7,2379.9 887.3,2380.2C888.8,2380.4 891.2,2380.4 892.7,2380.2C894.3,2379.9 896.7,2378.9 898.2,2378.4C899.7,2377.8 902.4,2376.6 903.6,2376.2C904.9,2375.8 906.0,2375.4 907.3,2375.5C908.5,2375.5 911.2,2376.4 912.7,2376.5C914.3,2376.6 916.7,2376.3 918.2,2376.2C919.7,2376.0 922.1,2375.7 923.6,2375.5C925.2,2375.3 927.6,2374.8 929.1,2374.7C930.6,2374.6 933.0,2374.5 934.5,2374.7C936.1,2374.9 938.5,2376.3 940.0,2376.2C941.5,2376.0 944.0,2374.5 945.5,2373.6C946.9,2372.8 948.9,2370.1 950.2,2370.0C951.5,2369.9 953.2,2372.8 954.5,2372.9C955.9,2373.1 958.5,2371.6 960.0,2371.1C961.5,2370.6 963.7,2369.7 965.5,2369.3C967.2,2368.9 970.9,2368.4 972.7,2368.2C974.5,2367.9 976.7,2367.7 978.2,2367.5C979.7,2367.2 982.1,2366.3 983.6,2366.4C985.2,2366.5 987.6,2368.0 989.1,2368.2C990.6,2368.3 993.0,2367.7 994.5,2367.5C996.1,2367.2 998.5,2366.6 1000.0,2366.4C1001.5,2366.1 1003.9,2365.9 1005.5,2365.6C1007.0,2365.4 1009.6,2365.0 1010.9,2364.5C1012.2,2364.1 1013.5,2362.9 1014.5,2362.7C1015.6,2362.6 1017.2,2362.9 1018.2,2363.5C1019.2,2364.0 1020.8,2366.0 1021.8,2366.4C1022.8,2366.8 1024.4,2366.7 1025.5,2366.4C1026.5,2366.0 1027.9,2364.4 1029.1,2363.8C1030.3,2363.2 1032.5,2362.5 1033.8,2362.0C1035.1,2361.5 1037.1,2360.3 1038.2,2360.2C1039.3,2360.0 1040.8,2360.3 1041.8,2360.9C1042.8,2361.5 1044.4,2363.8 1045.5,2364.5C1046.5,2365.3 1048.0,2366.5 1049.1,2366.4C1050.2,2366.3 1052.2,2364.3 1053.5,2363.8C1054.7,2363.3 1056.8,2363.1 1058.2,2362.7C1059.6,2362.3 1062.1,2361.2 1063.6,2360.9C1065.2,2360.6 1067.6,2360.6 1069.1,2360.5C1070.6,2360.5 1073.0,2360.5 1074.5,2360.5C1076.1,2360.6 1078.5,2360.5 1080.0,2360.9C1081.5,2361.4 1083.9,2363.1 1085.5,2363.8C1087.0,2364.6 1089.4,2365.8 1090.9,2366.4C1092.4,2367.0 1094.8,2367.7 1096.4,2368.2C1097.9,2368.7 1100.4,2369.6 1101.8,2370.0C1103.2,2370.4 1105.3,2370.8 1106.5,2370.7C1107.8,2370.6 1109.5,2369.6 1110.9,2369.3C1112.3,2368.9 1114.9,2368.2 1116.4,2368.2C1117.8,2368.2 1119.8,2368.8 1121.1,2369.3C1122.4,2369.8 1124.1,2371.2 1125.5,2371.8C1126.8,2372.4 1129.4,2373.5 1130.9,2373.6C1132.4,2373.8 1134.8,2373.2 1136.4,2372.9C1137.9,2372.7 1140.3,2372.2 1141.8,2371.8C1143.3,2371.4 1145.7,2370.6 1147.3,2370.0C1148.8,2369.4 1151.2,2368.1 1152.7,2367.5C1154.3,2366.8 1156.7,2365.9 1158.2,2365.6C1159.7,2365.4 1162.1,2365.6 1163.6,2365.6C1165.2,2365.6 1167.6,2365.6 1169.1,2365.6C1170.6,2365.6 1173.0,2365.5 1174.5,2365.6C1176.1,2365.7 1178.5,2366.1 1180.0,2366.4C1181.5,2366.6 1183.9,2367.2 1185.5,2367.5C1187.0,2367.7 1189.4,2367.7 1190.9,2368.2C1192.4,2368.6 1194.8,2369.9 1196.4,2370.7C1197.9,2371.6 1200.3,2373.4 1201.8,2374.4C1203.3,2375.3 1205.9,2376.6 1207.3,2377.3C1208.6,2377.9 1210.4,2379.2 1211.6,2379.1C1212.9,2379.0 1214.9,2377.4 1216.4,2376.5C1217.8,2375.7 1220.3,2373.9 1221.8,2372.9C1223.3,2371.9 1225.7,2370.2 1227.3,2369.3C1228.8,2368.4 1231.2,2367.1 1232.7,2366.4C1234.3,2365.6 1237.2,2364.0 1238.2,2363.8C1239.2,2363.6 1239.0,2365.2 1240.0,2365.1C1241.0,2365.0 1243.9,2363.5 1245.5,2363.2C1247.0,2362.8 1249.4,2362.6 1250.9,2362.6C1252.4,2362.6 1254.8,2363.2 1256.4,2363.2C1257.9,2363.2 1260.5,2362.4 1261.8,2362.6C1263.2,2362.8 1264.8,2363.9 1265.9,2364.5C1267.1,2365.2 1268.9,2366.6 1270.0,2367.3C1271.1,2368.0 1272.9,2368.9 1274.1,2369.5C1275.2,2370.0 1277.0,2370.9 1278.2,2371.4C1279.3,2371.8 1281.1,2372.4 1282.3,2372.7C1283.4,2373.0 1285.2,2373.5 1286.4,2373.5C1287.5,2373.5 1289.3,2372.9 1290.5,2372.7C1291.6,2372.5 1293.4,2372.1 1294.5,2372.2C1295.7,2372.3 1297.7,2372.6 1298.6,2373.3C1299.6,2373.9 1300.6,2375.4 1301.4,2376.8C1302.1,2378.3 1303.3,2381.2 1304.1,2383.6C1304.9,2386.1 1306.1,2391.5 1306.8,2394.5C1307.6,2397.6 1308.8,2403.0 1309.5,2405.5C1310.3,2407.9 1311.5,2411.7 1312.3,2412.3C1313.0,2412.8 1314.2,2411.5 1315.0,2409.5C1315.8,2407.6 1317.0,2401.7 1317.7,2398.6C1318.5,2395.6 1319.7,2390.2 1320.5,2387.7C1321.2,2385.2 1322.3,2382.4 1323.2,2380.9C1324.1,2379.4 1325.7,2377.7 1326.7,2376.8C1327.8,2376.0 1329.5,2375.3 1330.5,2374.9C1331.6,2374.5 1333.0,2374.3 1334.1,2374.1C1335.2,2373.9 1337.2,2373.3 1338.2,2373.5C1339.2,2373.8 1340.5,2375.8 1341.5,2376.0C1342.4,2376.2 1343.9,2375.0 1345.0,2374.9C1346.1,2374.8 1347.9,2375.6 1349.1,2375.5C1350.2,2375.3 1352.0,2374.4 1353.2,2374.1C1354.3,2373.8 1356.1,2373.2 1357.3,2373.3C1358.4,2373.3 1360.2,2374.6 1361.4,2374.6C1362.5,2374.7 1364.3,2373.6 1365.5,2373.5C1366.6,2373.5 1368.4,2374.1 1369.5,2374.1C1370.7,2374.1 1372.5,2373.5 1373.6,2373.5C1374.8,2373.6 1376.7,2374.2 1377.7,2374.6C1378.8,2375.1 1380.3,2375.7 1381.3,2376.8C1382.2,2377.9 1383.6,2380.4 1384.5,2382.3C1385.5,2384.2 1386.9,2388.0 1387.8,2390.5C1388.8,2392.9 1390.6,2396.8 1391.4,2400.0C1392.2,2403.2 1393.0,2409.1 1393.5,2413.6C1394.1,2418.2 1395.0,2427.0 1395.5,2432.7C1396.0,2438.5 1396.6,2448.4 1397.1,2454.5C1397.5,2460.7 1398.3,2471.0 1398.7,2476.4C1399.2,2481.7 1399.9,2489.9 1400.4,2492.7C1400.8,2495.6 1401.5,2497.2 1402.0,2496.8C1402.5,2496.4 1403.2,2493.6 1403.6,2490.0C1404.1,2486.4 1404.8,2476.6 1405.3,2470.9C1405.7,2465.2 1406.5,2455.2 1406.9,2449.1C1407.4,2443.0 1408.0,2433.0 1408.5,2427.3C1409.0,2421.5 1409.9,2412.8 1410.5,2408.2C1411.0,2403.6 1411.7,2397.8 1412.4,2394.5C1413.0,2391.3 1414.3,2387.1 1415.1,2385.0C1415.9,2382.9 1416.9,2380.8 1417.8,2379.5C1418.7,2378.3 1420.3,2376.8 1421.4,2376.0C1422.4,2375.2 1424.3,2374.5 1425.5,2374.1C1426.6,2373.6 1428.4,2372.7 1429.5,2372.7C1430.7,2372.7 1432.6,2373.5 1433.6,2374.1C1434.7,2374.7 1436.1,2375.7 1436.9,2376.8C1437.7,2378.0 1438.9,2380.2 1439.6,2382.3C1440.3,2384.4 1441.3,2388.6 1441.8,2391.8C1442.4,2395.1 1443.1,2400.9 1443.5,2405.5C1443.8,2410.0 1444.2,2419.2 1444.5,2424.5C1444.9,2429.9 1445.5,2439.1 1445.9,2443.6C1446.3,2448.2 1446.8,2454.2 1447.3,2457.3C1447.8,2460.3 1448.8,2463.2 1449.5,2465.5C1450.1,2467.7 1451.5,2470.6 1452.2,2473.6C1452.8,2476.7 1453.6,2483.1 1454.1,2487.3C1454.5,2491.5 1455.1,2498.3 1455.5,2503.6C1455.8,2509.0 1456.5,2519.3 1456.8,2525.5C1457.1,2531.6 1457.4,2541.2 1457.6,2547.3C1457.9,2553.4 1458.2,2565.1 1458.5,2569.1C1458.7,2573.1 1459.0,2576.3 1459.3,2575.9C1459.5,2575.5 1460.1,2570.4 1460.4,2566.4C1460.7,2562.4 1461.1,2553.0 1461.5,2547.3C1461.8,2541.5 1462.2,2531.9 1462.5,2525.5C1462.9,2519.0 1463.3,2507.8 1463.6,2500.9C1464.0,2494.0 1464.6,2483.2 1465.0,2476.4C1465.4,2469.5 1465.9,2457.5 1466.4,2451.8C1466.8,2446.1 1467.5,2439.3 1468.0,2435.5C1468.5,2431.6 1469.6,2427.2 1470.2,2424.5C1470.8,2421.9 1471.8,2418.7 1472.4,2416.4C1473.0,2414.1 1473.9,2410.0 1474.5,2408.2C1475.2,2406.3 1476.0,2404.1 1476.7,2403.3C1477.4,2402.4 1478.7,2402.4 1479.5,2402.2C1480.2,2401.9 1481.4,2402.1 1482.2,2401.4C1482.9,2400.7 1484.1,2399.0 1484.9,2397.3C1485.7,2395.6 1486.9,2391.0 1487.6,2389.1C1488.4,2387.2 1489.6,2384.7 1490.4,2383.6C1491.1,2382.6 1492.3,2381.5 1493.1,2381.5C1493.9,2381.5 1495.1,2382.2 1495.8,2383.6C1496.5,2385.1 1497.4,2389.3 1498.0,2391.8C1498.6,2394.3 1499.6,2398.9 1500.2,2401.4C1500.8,2403.8 1501.8,2408.2 1502.4,2409.5C1503.0,2410.9 1503.9,2411.5 1504.5,2410.9C1505.2,2410.3 1506.1,2407.4 1506.7,2405.5C1507.3,2403.5 1508.3,2399.4 1508.9,2397.3C1509.6,2395.2 1510.6,2391.8 1511.4,2390.5C1512.1,2389.1 1513.3,2388.0 1514.1,2387.7C1514.9,2387.5 1516.1,2389.1 1516.8,2388.5C1517.6,2388.0 1518.9,2384.5 1519.5,2383.6C1520.2,2382.8 1520.9,2382.1 1521.5,2382.3C1522.0,2382.5 1523.0,2383.9 1523.6,2385.0C1524.2,2386.1 1525.2,2388.9 1525.8,2390.5C1526.4,2392.0 1527.2,2394.8 1527.7,2395.9C1528.3,2397.1 1529.3,2399.0 1529.9,2398.6C1530.5,2398.3 1531.2,2395.3 1531.8,2393.2C1532.4,2391.1 1533.4,2386.1 1534.0,2383.6C1534.6,2381.2 1535.5,2377.2 1536.2,2375.5C1536.9,2373.7 1538.1,2371.9 1538.9,2371.4C1539.7,2370.8 1540.9,2370.8 1541.6,2371.4C1542.4,2371.9 1543.7,2373.4 1544.4,2375.5C1545.1,2377.6 1546.0,2382.9 1546.5,2386.4C1547.1,2389.8 1547.7,2395.8 1548.2,2400.0C1548.6,2404.2 1549.4,2411.8 1549.8,2416.4C1550.3,2420.9 1551.0,2428.1 1551.5,2432.7C1551.9,2437.3 1552.6,2445.3 1553.1,2449.1C1553.5,2452.9 1554.3,2458.5 1554.7,2460.0C1555.2,2461.5 1555.9,2461.1 1556.4,2460.0C1556.8,2458.9 1557.5,2454.5 1558.0,2451.8C1558.5,2449.1 1559.1,2443.4 1559.6,2440.9C1560.2,2438.4 1561.2,2435.0 1561.8,2434.1C1562.4,2433.1 1563.4,2433.1 1564.0,2434.1C1564.6,2435.0 1565.6,2438.0 1566.2,2440.9C1566.8,2443.8 1567.8,2450.7 1568.4,2454.5C1568.9,2458.4 1569.5,2465.4 1570.0,2468.2C1570.5,2470.9 1571.2,2474.2 1571.6,2474.2C1572.1,2474.2 1572.8,2471.3 1573.3,2468.2C1573.7,2465.1 1574.4,2456.8 1574.9,2451.8C1575.4,2446.9 1576.5,2437.1 1577.1,2432.7C1577.7,2428.3 1578.7,2422.6 1579.3,2420.5C1579.9,2418.4 1580.8,2417.7 1581.5,2417.7C1582.1,2417.7 1583.0,2418.7 1583.6,2420.5C1584.2,2422.2 1585.2,2426.4 1585.8,2430.0C1586.4,2433.6 1587.4,2441.0 1588.0,2446.4C1588.6,2451.7 1589.6,2461.7 1590.2,2468.2C1590.8,2474.7 1591.8,2485.5 1592.4,2492.7C1593.0,2500.0 1593.9,2512.4 1594.5,2520.0C1595.2,2527.6 1596.1,2539.6 1596.7,2547.3C1597.3,2554.9 1598.3,2567.7 1598.9,2574.5C1599.5,2581.4 1600.6,2591.4 1601.1,2596.4C1601.6,2601.3 1602.2,2607.1 1602.7,2610.0C1603.3,2612.9 1604.3,2616.8 1604.9,2616.8C1605.5,2616.8 1606.5,2613.6 1607.1,2610.0C1607.7,2606.4 1608.7,2597.4 1609.3,2590.9C1609.9,2584.4 1610.8,2572.0 1611.5,2563.6C1612.1,2555.2 1613.0,2540.1 1613.6,2530.9C1614.2,2521.7 1615.2,2506.6 1615.8,2498.2C1616.4,2489.8 1617.4,2477.4 1618.0,2470.9C1618.6,2464.4 1619.6,2456.4 1620.2,2451.8C1620.8,2447.2 1621.8,2442.0 1622.4,2438.2C1623.0,2434.4 1623.9,2428.4 1624.5,2424.5C1625.2,2420.7 1626.1,2414.0 1626.7,2410.9C1627.3,2407.9 1628.1,2404.3 1628.9,2402.7C1629.7,2401.1 1631.9,2399.1 1632.7,2399.5C1633.6,2399.8 1634.3,2402.7 1634.9,2405.5C1635.5,2408.2 1636.3,2414.5 1636.8,2419.1C1637.4,2423.7 1638.2,2432.5 1638.7,2438.2C1639.3,2443.9 1640.3,2453.9 1640.9,2460.0C1641.5,2466.1 1642.5,2476.7 1643.1,2481.8C1643.7,2487.0 1644.7,2494.5 1645.3,2496.8C1645.9,2499.1 1646.9,2499.3 1647.5,2498.2C1648.0,2497.0 1648.6,2490.9 1649.1,2488.6C1649.5,2486.3 1650.3,2481.2 1650.7,2481.8C1651.1,2482.4 1651.5,2487.8 1651.8,2492.7C1652.1,2497.7 1652.6,2510.0 1652.9,2517.3C1653.2,2524.5 1653.7,2536.9 1654.0,2544.5C1654.3,2552.2 1654.8,2564.2 1655.1,2571.8C1655.4,2579.5 1655.9,2592.6 1656.2,2599.1C1656.5,2605.6 1657.0,2614.9 1657.3,2618.2C1657.5,2621.4 1657.8,2623.0 1658.1,2622.3C1658.4,2621.5 1658.9,2617.9 1659.2,2612.7C1659.5,2607.6 1660.0,2593.9 1660.3,2585.5C1660.6,2577.1 1661.1,2562.3 1661.4,2552.7C1661.7,2543.2 1662.1,2527.2 1662.5,2517.3C1662.8,2507.3 1663.4,2490.6 1663.8,2481.8C1664.2,2473.0 1665.0,2461.0 1665.5,2454.5C1666.0,2448.1 1666.8,2439.3 1667.4,2435.5C1667.9,2431.6 1668.9,2428.0 1669.5,2427.3C1670.2,2426.5 1671.2,2428.3 1671.7,2430.0C1672.3,2431.7 1673.1,2436.1 1673.6,2439.5C1674.2,2443.0 1675.0,2449.4 1675.5,2454.5C1676.1,2459.7 1677.0,2469.5 1677.5,2476.4C1678.0,2483.2 1678.6,2495.2 1679.1,2503.6C1679.5,2512.0 1680.3,2527.6 1680.7,2536.4C1681.2,2545.1 1681.9,2559.5 1682.4,2566.4C1682.8,2573.2 1683.6,2582.4 1684.0,2585.5C1684.4,2588.5 1684.8,2588.9 1685.1,2588.2C1685.4,2587.4 1685.9,2584.2 1686.2,2580.0C1686.5,2575.8 1686.9,2565.1 1687.3,2558.2C1687.6,2551.3 1688.3,2538.5 1688.6,2530.9C1689.0,2523.3 1689.6,2511.3 1690.0,2503.6C1690.4,2496.0 1691.0,2483.2 1691.4,2476.4C1691.7,2469.5 1692.3,2459.1 1692.7,2454.5C1693.1,2450.0 1693.8,2445.4 1694.4,2443.6C1694.9,2441.9 1695.9,2442.1 1696.5,2442.3C1697.2,2442.5 1698.1,2443.7 1698.7,2445.0C1699.3,2446.3 1700.4,2450.7 1700.9,2451.3C1701.4,2451.8 1702.1,2451.3 1702.5,2449.1C1703.0,2446.9 1703.7,2440.0 1704.2,2435.5C1704.6,2430.9 1705.3,2420.9 1705.8,2416.4C1706.3,2411.8 1707.2,2405.8 1707.7,2402.7C1708.3,2399.7 1709.1,2395.9 1709.6,2394.5C1710.2,2393.2 1711.2,2392.8 1711.8,2393.2C1712.4,2393.6 1713.4,2395.4 1714.0,2397.3C1714.6,2399.2 1715.6,2404.9 1716.2,2406.8C1716.8,2408.7 1717.8,2410.5 1718.4,2410.9C1719.0,2411.3 1719.9,2410.9 1720.5,2409.5C1721.2,2408.2 1722.1,2404.0 1722.7,2401.4C1723.3,2398.7 1724.3,2392.9 1724.9,2390.5C1725.5,2388.0 1726.4,2385.0 1727.1,2383.6C1727.7,2382.3 1728.9,2380.7 1729.5,2380.9C1730.2,2381.1 1731.0,2382.3 1731.5,2385.0C1732.0,2387.7 1732.6,2395.2 1733.1,2400.0C1733.5,2404.8 1734.3,2414.1 1734.7,2419.1C1735.2,2424.1 1735.9,2432.3 1736.4,2435.5C1736.8,2438.6 1737.5,2441.5 1738.0,2441.5C1738.5,2441.5 1739.2,2438.6 1739.6,2435.5C1740.1,2432.3 1740.8,2424.1 1741.3,2419.1C1741.7,2414.1 1742.5,2405.0 1742.9,2400.0C1743.4,2395.0 1744.0,2387.5 1744.5,2383.6C1745.1,2379.8 1746.0,2375.2 1746.7,2372.7C1747.4,2370.2 1748.6,2367.4 1749.5,2365.9C1750.3,2364.5 1751.8,2363.0 1752.7,2362.4C1753.6,2361.7 1755.0,2361.3 1756.0,2361.3C1757.0,2361.3 1758.6,2361.7 1759.5,2362.4C1760.5,2363.0 1762.1,2364.9 1763.1,2365.9C1764.0,2366.9 1765.3,2368.7 1766.4,2369.5C1767.4,2370.2 1769.3,2370.8 1770.5,2371.4C1771.6,2371.9 1773.4,2372.6 1774.5,2373.3C1775.7,2373.9 1777.6,2376.0 1778.6,2376.0C1779.7,2376.0 1781.2,2374.2 1782.2,2373.3C1783.1,2372.4 1784.5,2370.2 1785.5,2369.5C1786.4,2368.7 1788.0,2367.8 1788.7,2368.1C1789.5,2368.4 1790.3,2369.8 1790.9,2371.4C1791.5,2373.0 1792.5,2377.3 1793.1,2379.5C1793.7,2381.8 1794.6,2386.3 1795.3,2387.7C1796.0,2389.1 1797.2,2389.8 1798.0,2389.6C1798.8,2389.4 1799.9,2387.4 1800.7,2386.4C1801.6,2385.3 1803.1,2383.2 1804.0,2382.3C1804.9,2381.3 1806.4,2379.8 1807.3,2379.5C1808.2,2379.3 1809.7,2379.4 1810.5,2380.4C1811.4,2381.3 1812.6,2383.6 1813.3,2386.4C1814.0,2389.1 1814.9,2395.4 1815.5,2400.0C1816.0,2404.6 1816.6,2413.4 1817.1,2419.1C1817.5,2424.8 1818.3,2436.3 1818.7,2440.9C1819.2,2445.5 1819.9,2451.4 1820.4,2451.8C1820.8,2452.2 1821.5,2446.3 1822.0,2443.6C1822.5,2441.0 1823.2,2433.5 1823.6,2432.7C1824.1,2432.0 1824.8,2434.7 1825.3,2438.2C1825.7,2441.6 1826.5,2451.2 1826.9,2457.3C1827.4,2463.4 1828.1,2475.3 1828.5,2481.8C1829.0,2488.3 1829.7,2498.3 1830.2,2503.6C1830.6,2509.0 1831.4,2518.5 1831.8,2520.0C1832.3,2521.5 1833.0,2516.8 1833.5,2514.5C1833.9,2512.3 1834.6,2505.4 1835.1,2503.6C1835.6,2501.9 1836.7,2501.1 1837.3,2502.3C1837.9,2503.4 1838.9,2508.2 1839.5,2511.8C1840.0,2515.4 1840.8,2524.0 1841.4,2528.2C1841.9,2532.4 1842.8,2539.3 1843.3,2541.8C1843.7,2544.3 1844.3,2546.3 1844.6,2545.9C1845.0,2545.5 1845.6,2542.0 1846.0,2539.1C1846.4,2536.2 1847.2,2530.0 1847.6,2525.5C1848.1,2520.9 1848.8,2512.1 1849.3,2506.4C1849.7,2500.6 1850.5,2490.3 1850.9,2484.5C1851.4,2478.8 1852.1,2470.4 1852.5,2465.5C1853.0,2460.5 1853.7,2453.7 1854.2,2449.1C1854.6,2444.5 1855.4,2437.3 1855.8,2432.7C1856.3,2428.1 1857.0,2420.0 1857.5,2416.4C1857.9,2412.7 1858.5,2408.7 1859.1,2406.8C1859.7,2405.0 1861.0,2404.0 1861.8,2403.3C1862.7,2402.5 1864.1,2401.8 1865.1,2401.4C1866.0,2400.9 1867.6,2400.5 1868.6,2400.0C1869.6,2399.5 1871.3,2398.8 1872.2,2397.8C1873.1,2396.9 1874.1,2394.5 1874.9,2393.2C1875.7,2391.9 1876.9,2389.2 1877.6,2388.5C1878.4,2387.9 1879.7,2387.9 1880.4,2388.5C1881.1,2389.2 1881.9,2390.8 1882.5,2393.2C1883.2,2395.5 1884.1,2402.0 1884.7,2405.5C1885.3,2408.9 1886.2,2415.6 1886.9,2417.7C1887.6,2419.8 1888.9,2420.0 1889.6,2420.5C1890.4,2421.0 1891.6,2420.9 1892.4,2421.3C1893.1,2421.7 1894.3,2422.3 1895.1,2423.2C1895.9,2424.0 1897.1,2426.3 1897.8,2427.3C1898.6,2428.2 1899.8,2429.8 1900.5,2430.0C1901.3,2430.2 1902.5,2428.9 1903.3,2428.6C1904.0,2428.3 1905.4,2426.9 1906.0,2427.8C1906.6,2428.8 1907.2,2432.1 1907.6,2435.5C1908.1,2438.8 1908.8,2446.9 1909.3,2451.8C1909.7,2456.8 1910.5,2467.0 1910.9,2470.9C1911.4,2474.8 1912.1,2479.6 1912.5,2479.6C1913.0,2479.6 1913.7,2474.4 1914.2,2470.9C1914.6,2467.4 1915.4,2457.6 1915.8,2454.5C1916.3,2451.5 1917.0,2448.7 1917.5,2449.1C1917.9,2449.5 1918.6,2453.5 1919.1,2457.3C1919.5,2461.1 1920.3,2471.0 1920.7,2476.4C1921.2,2481.7 1921.9,2490.5 1922.4,2495.5C1922.8,2500.4 1923.5,2507.6 1924.0,2511.8C1924.5,2516.0 1925.4,2522.8 1925.9,2525.5C1926.4,2528.1 1927.2,2530.5 1927.8,2530.9C1928.4,2531.3 1929.5,2530.5 1930.0,2528.2C1930.5,2525.9 1931.2,2519.5 1931.6,2514.5C1932.1,2509.6 1932.8,2499.6 1933.3,2492.7C1933.7,2485.9 1934.5,2472.3 1934.9,2465.5C1935.4,2458.6 1936.1,2448.4 1936.5,2443.6C1937.0,2438.9 1937.6,2433.3 1938.2,2431.4C1938.8,2429.5 1940.1,2429.8 1940.9,2430.0C1941.7,2430.2 1942.9,2432.5 1943.6,2432.7C1944.4,2432.9 1945.7,2433.3 1946.4,2431.4C1947.1,2429.5 1948.0,2423.5 1948.5,2419.1C1949.1,2414.7 1949.9,2404.6 1950.5,2400.0C1951.0,2395.4 1951.8,2388.7 1952.4,2386.4C1952.9,2384.0 1953.9,2382.7 1954.5,2383.1C1955.2,2383.5 1956.2,2385.6 1956.7,2389.1C1957.3,2392.6 1958.1,2402.8 1958.6,2408.2C1959.2,2413.5 1960.0,2423.1 1960.5,2427.3C1961.1,2431.5 1962.1,2437.2 1962.7,2438.2C1963.3,2439.1 1964.2,2435.2 1964.9,2434.1C1965.6,2432.9 1966.9,2430.8 1967.6,2430.0C1968.4,2429.2 1969.6,2429.3 1970.4,2428.6C1971.1,2427.9 1972.4,2425.3 1973.1,2425.1C1973.8,2424.9 1974.7,2425.4 1975.3,2427.3C1975.8,2429.1 1976.5,2435.1 1976.9,2438.2C1977.4,2441.2 1978.0,2447.0 1978.5,2449.1C1979.1,2451.2 1980.4,2452.6 1980.7,2453.2" stroke="#000000" stroke-width="4.6"/>
<path class="curve" d="M212.7,2690.0C213.5,2691.0 216.4,2694.7 218.2,2697.3C220.0,2699.8 223.4,2705.1 225.5,2708.2C227.5,2711.2 230.7,2716.0 232.7,2719.1C234.8,2722.1 238.0,2727.0 240.0,2730.0C242.0,2733.0 245.2,2737.4 247.3,2740.2C249.3,2743.0 252.5,2747.4 254.5,2750.0C256.6,2752.6 259.8,2756.5 261.8,2759.1C263.9,2761.6 267.1,2765.7 269.1,2768.2C271.1,2770.6 274.3,2774.4 276.4,2776.5C278.4,2778.7 281.6,2781.7 283.6,2783.5C285.7,2785.2 288.9,2787.5 290.9,2788.9C292.9,2790.3 296.1,2792.3 298.2,2793.3C300.2,2794.3 303.4,2795.5 305.5,2796.2C307.5,2796.8 310.7,2797.6 312.7,2798.0C314.8,2798.4 318.0,2799.0 320.0,2799.1C322.0,2799.1 325.2,2798.9 327.3,2798.4C329.3,2797.9 332.5,2796.4 334.5,2795.5C336.6,2794.5 339.8,2793.1 341.8,2791.8C343.9,2790.5 347.1,2788.1 349.1,2786.4C351.1,2784.6 354.3,2781.4 356.4,2779.1C358.4,2776.8 361.6,2772.5 363.6,2770.0C365.7,2767.5 368.9,2763.6 370.9,2760.9C372.9,2758.3 376.1,2753.8 378.2,2751.1C380.2,2748.4 383.4,2744.0 385.5,2741.6C387.5,2739.3 390.7,2736.3 392.7,2734.4C394.8,2732.4 398.0,2729.2 400.0,2727.5C402.0,2725.7 405.2,2723.4 407.3,2722.0C409.3,2720.6 412.5,2718.7 414.5,2717.6C416.6,2716.6 419.8,2715.4 421.8,2714.4C423.9,2713.3 427.1,2711.3 429.1,2710.0C431.1,2708.7 434.3,2706.6 436.4,2705.3C438.4,2703.9 441.6,2701.8 443.6,2700.2C445.7,2698.6 448.9,2695.3 450.9,2693.6C452.9,2692.0 456.1,2689.8 458.2,2688.5C460.2,2687.3 463.4,2685.8 465.5,2684.5C467.5,2683.3 470.7,2680.9 472.7,2679.8C474.8,2678.7 478.0,2677.3 480.0,2676.5C482.0,2675.8 485.2,2674.9 487.3,2674.7C489.3,2674.6 492.5,2675.4 494.5,2675.5C496.6,2675.6 499.8,2675.3 501.8,2675.5C503.9,2675.6 507.1,2676.3 509.1,2676.5C511.1,2676.8 514.3,2676.8 516.4,2677.3C518.4,2677.7 521.6,2679.1 523.6,2679.8C525.7,2680.6 529.1,2682.1 530.9,2682.7C532.7,2683.4 534.9,2684.0 536.4,2684.5C537.8,2685.1 539.8,2685.3 541.1,2686.4C542.4,2687.4 544.2,2689.9 545.5,2691.8C546.7,2693.8 548.5,2697.9 549.8,2700.2C551.1,2702.5 553.2,2706.4 554.5,2708.2C555.9,2710.0 558.0,2711.8 559.3,2712.9C560.5,2714.0 562.5,2716.4 563.6,2716.2C564.8,2715.9 566.2,2712.8 567.3,2711.1C568.4,2709.4 570.4,2705.3 571.6,2703.8C572.9,2702.3 575.0,2700.5 576.4,2700.2C577.7,2699.9 579.8,2701.2 581.1,2701.6C582.4,2702.0 584.1,2703.4 585.5,2703.1C586.8,2702.7 589.4,2700.4 590.9,2699.1C592.4,2697.8 594.8,2695.1 596.4,2693.6C597.9,2692.2 600.4,2689.3 601.8,2688.9C603.2,2688.5 605.3,2689.8 606.5,2690.7C607.8,2691.6 609.8,2694.6 610.9,2695.5C612.0,2696.3 613.5,2697.7 614.5,2696.5C615.6,2695.4 617.2,2689.5 618.2,2687.1C619.2,2684.6 620.5,2681.1 621.8,2679.1C623.1,2677.1 625.7,2674.1 627.3,2672.5C628.8,2671.0 631.2,2669.2 632.7,2668.2C634.3,2667.2 636.7,2666.0 638.2,2665.3C639.7,2664.5 642.3,2663.2 643.6,2662.7C645.0,2662.2 647.0,2661.3 648.0,2661.6C649.0,2662.0 650.0,2663.9 650.9,2665.3C651.8,2666.6 653.6,2671.1 654.5,2671.1C655.5,2671.1 656.5,2666.6 657.5,2665.3C658.4,2663.9 660.0,2661.8 661.1,2661.6C662.2,2661.4 664.1,2663.0 665.5,2663.8C666.8,2664.6 669.4,2666.4 670.9,2667.5C672.4,2668.5 674.8,2670.2 676.4,2671.1C677.9,2672.0 680.3,2672.6 681.8,2673.6C683.3,2674.7 685.7,2677.2 687.3,2678.4C688.8,2679.5 691.2,2681.4 692.7,2682.0C694.3,2682.6 696.7,2683.2 698.2,2682.7C699.7,2682.2 702.1,2679.9 703.6,2678.4C705.2,2676.8 707.6,2673.9 709.1,2671.8C710.6,2669.8 713.0,2666.0 714.5,2663.8C716.1,2661.7 718.5,2658.2 720.0,2656.5C721.5,2654.9 723.9,2653.1 725.5,2651.8C727.0,2650.5 729.4,2648.3 730.9,2647.1C732.4,2645.9 735.1,2644.3 736.4,2643.5C737.6,2642.6 738.7,2641.5 740.0,2640.9C741.3,2640.3 743.9,2639.4 745.5,2639.1C747.0,2638.7 749.4,2638.2 750.9,2638.4C752.4,2638.5 754.8,2640.0 756.4,2640.2C757.9,2640.4 760.3,2640.1 761.8,2639.8C763.3,2639.6 765.7,2638.6 767.3,2638.4C768.8,2638.2 771.2,2638.4 772.7,2638.4C774.3,2638.4 776.9,2638.1 778.2,2638.4C779.5,2638.6 780.8,2640.2 781.8,2640.2C782.8,2640.2 784.4,2638.6 785.5,2638.4C786.5,2638.1 787.8,2638.0 789.1,2638.4C790.4,2638.7 793.0,2640.2 794.5,2640.9C796.1,2641.6 798.5,2643.1 800.0,2643.5C801.5,2643.8 803.9,2643.5 805.5,2643.5C807.0,2643.5 809.4,2643.5 810.9,2643.5C812.4,2643.5 814.8,2643.1 816.4,2643.5C817.9,2643.8 820.3,2645.1 821.8,2645.6C823.3,2646.1 825.7,2646.8 827.3,2647.1C828.8,2647.3 831.2,2647.3 832.7,2647.5C834.3,2647.6 836.7,2648.1 838.2,2648.2C839.7,2648.3 842.1,2648.1 843.6,2648.2C845.2,2648.3 847.6,2648.7 849.1,2648.9C850.6,2649.2 853.0,2649.6 854.5,2650.0C856.1,2650.4 858.5,2651.3 860.0,2651.8C861.5,2652.3 863.9,2653.1 865.5,2653.6C867.0,2654.1 869.4,2655.2 870.9,2655.5C872.4,2655.7 874.8,2655.3 876.4,2655.5C877.9,2655.6 880.3,2656.5 881.8,2656.5C883.3,2656.5 885.7,2655.8 887.3,2655.5C888.8,2655.1 891.2,2654.7 892.7,2654.4C894.3,2654.0 896.7,2653.4 898.2,2652.9C899.7,2652.5 902.1,2651.9 903.6,2651.1C905.2,2650.3 907.6,2648.5 909.1,2647.5C910.6,2646.4 913.0,2644.5 914.5,2643.5C916.1,2642.4 918.5,2640.9 920.0,2640.2C921.5,2639.5 923.9,2638.6 925.5,2638.4C927.0,2638.1 929.1,2638.4 930.9,2638.4C932.7,2638.4 936.1,2638.4 938.2,2638.4C940.2,2638.4 943.4,2638.4 945.5,2638.4C947.5,2638.4 950.9,2638.4 952.7,2638.4C954.5,2638.3 956.7,2638.2 958.2,2638.0C959.7,2637.8 961.9,2637.4 963.6,2637.3C965.4,2637.1 968.9,2637.0 970.9,2636.9C972.9,2636.9 976.1,2636.9 978.2,2636.9C980.2,2637.0 983.7,2637.1 985.5,2637.3C987.2,2637.5 989.1,2638.2 990.9,2638.4C992.7,2638.5 996.1,2638.4 998.2,2638.4C1000.2,2638.4 1003.4,2638.4 1005.5,2638.4C1007.5,2638.4 1010.7,2638.4 1012.7,2638.4C1014.8,2638.4 1018.0,2638.4 1020.0,2638.4C1022.0,2638.4 1025.2,2638.4 1027.3,2638.4C1029.3,2638.4 1032.5,2638.4 1034.5,2638.4C1036.6,2638.4 1040.0,2638.2 1041.8,2638.4C1043.6,2638.6 1045.7,2639.6 1047.3,2639.8C1048.8,2640.1 1050.9,2640.1 1052.7,2640.2C1054.5,2640.2 1058.0,2640.2 1060.0,2640.2C1062.0,2640.2 1065.2,2640.2 1067.3,2640.2C1069.3,2640.2 1072.8,2640.0 1074.5,2640.2C1076.3,2640.4 1078.5,2641.3 1080.0,2641.6C1081.5,2642.0 1083.9,2642.5 1085.5,2642.7C1087.0,2643.0 1089.4,2643.2 1090.9,2643.5C1092.4,2643.7 1094.6,2644.3 1096.4,2644.5C1098.1,2644.7 1101.6,2644.9 1103.6,2644.9C1105.7,2645.0 1108.9,2644.9 1110.9,2644.9C1112.9,2644.9 1116.1,2644.9 1118.2,2644.9C1120.2,2644.9 1123.4,2644.9 1125.5,2644.9C1127.5,2644.9 1130.9,2645.0 1132.7,2644.9C1134.5,2644.9 1136.7,2644.9 1138.2,2644.5C1139.7,2644.2 1142.1,2643.1 1143.6,2642.7C1145.2,2642.3 1147.6,2642.0 1149.1,2641.6C1150.6,2641.3 1153.0,2640.4 1154.5,2640.2C1156.1,2639.9 1158.5,2639.9 1160.0,2639.8C1161.5,2639.8 1163.9,2639.9 1165.5,2639.8C1167.0,2639.7 1169.4,2639.3 1170.9,2639.1C1172.4,2638.9 1174.6,2638.5 1176.4,2638.4C1178.1,2638.3 1181.6,2638.4 1183.6,2638.4C1185.7,2638.4 1188.9,2638.4 1190.9,2638.4C1192.9,2638.4 1196.4,2638.3 1198.2,2638.4C1200.0,2638.5 1202.1,2638.8 1203.6,2639.1C1205.2,2639.3 1207.6,2640.0 1209.1,2640.2C1210.6,2640.3 1212.8,2640.2 1214.5,2640.2C1216.3,2640.2 1220.0,2640.4 1221.8,2640.2C1223.6,2639.9 1225.5,2638.6 1227.3,2638.4C1229.1,2638.1 1232.8,2638.2 1234.5,2638.4C1236.3,2638.5 1238.1,2639.5 1240.0,2639.6C1241.9,2639.8 1245.9,2639.6 1248.2,2639.6C1250.5,2639.6 1254.1,2639.6 1256.4,2639.6C1258.7,2639.6 1262.3,2639.6 1264.5,2639.6C1266.8,2639.6 1270.8,2639.5 1272.7,2639.6C1274.6,2639.8 1276.7,2640.3 1278.2,2640.5C1279.7,2640.6 1282.1,2640.5 1283.6,2640.7C1285.2,2640.9 1287.6,2641.7 1289.1,2641.8C1290.6,2642.0 1293.2,2641.4 1294.5,2641.8C1295.9,2642.2 1297.5,2643.5 1298.6,2644.5C1299.8,2645.6 1301.7,2647.9 1302.7,2649.5C1303.8,2651.0 1305.2,2653.9 1306.0,2655.5C1306.8,2657.1 1308.0,2659.8 1308.7,2660.9C1309.5,2662.1 1310.6,2663.3 1311.5,2663.6C1312.3,2664.0 1313.9,2663.9 1315.0,2663.6C1316.1,2663.3 1317.8,2661.8 1319.1,2661.5C1320.4,2661.1 1323.0,2661.5 1324.5,2661.5C1326.1,2661.5 1328.7,2661.5 1330.0,2661.5C1331.3,2661.4 1332.9,2660.6 1334.1,2660.9C1335.2,2661.2 1337.2,2662.5 1338.2,2663.6C1339.2,2664.8 1340.5,2667.2 1341.5,2669.1C1342.4,2671.0 1343.9,2675.2 1345.0,2677.3C1346.1,2679.4 1347.9,2682.4 1349.1,2684.1C1350.2,2685.7 1352.0,2687.7 1353.2,2689.0C1354.3,2690.3 1356.1,2692.3 1357.3,2693.1C1358.4,2693.9 1360.2,2694.7 1361.4,2695.0C1362.5,2695.3 1364.3,2695.6 1365.5,2695.5C1366.6,2695.5 1368.4,2694.9 1369.5,2694.5C1370.7,2694.0 1372.5,2693.2 1373.6,2692.3C1374.8,2691.3 1376.6,2689.2 1377.7,2687.6C1378.9,2686.1 1380.7,2683.4 1381.8,2681.4C1383.0,2679.3 1384.8,2675.5 1385.9,2673.2C1387.0,2670.9 1388.7,2666.6 1389.5,2665.0C1390.3,2663.4 1391.0,2661.5 1391.6,2661.5C1392.2,2661.5 1393.2,2663.2 1393.8,2665.0C1394.4,2666.8 1395.4,2671.7 1396.0,2674.5C1396.6,2677.4 1397.5,2683.2 1398.2,2685.5C1398.9,2687.7 1400.2,2690.2 1400.9,2690.4C1401.6,2690.6 1402.5,2689.0 1403.1,2686.8C1403.7,2684.6 1404.6,2678.2 1405.3,2674.5C1405.9,2670.9 1407.0,2664.3 1407.7,2660.9C1408.5,2657.5 1409.7,2652.5 1410.5,2650.0C1411.2,2647.5 1412.3,2644.6 1413.2,2643.2C1414.1,2641.7 1415.8,2640.2 1416.7,2639.6C1417.7,2639.1 1419.1,2639.0 1420.0,2639.1C1420.9,2639.2 1422.3,2640.0 1423.3,2640.5C1424.2,2641.0 1425.9,2642.6 1426.8,2642.6C1427.8,2642.6 1429.1,2641.0 1430.1,2640.5C1431.0,2639.9 1432.7,2638.7 1433.6,2638.5C1434.6,2638.4 1436.1,2638.4 1436.9,2639.1C1437.7,2639.7 1438.9,2641.3 1439.6,2643.2C1440.4,2645.1 1441.7,2649.5 1442.4,2652.7C1443.1,2656.0 1444.0,2662.5 1444.5,2666.4C1445.1,2670.2 1445.9,2677.1 1446.5,2680.0C1447.0,2682.9 1447.9,2685.6 1448.6,2686.8C1449.3,2688.0 1450.6,2687.6 1451.4,2688.7C1452.1,2689.9 1453.4,2692.0 1454.1,2695.0C1454.7,2698.0 1455.5,2705.6 1456.0,2710.0C1456.5,2714.4 1457.1,2722.4 1457.6,2726.4C1458.1,2730.4 1458.9,2736.3 1459.5,2738.6C1460.2,2741.0 1461.5,2742.4 1462.3,2743.3C1463.0,2744.2 1464.2,2744.2 1465.0,2744.9C1465.8,2745.6 1467.0,2747.9 1467.7,2748.2C1468.4,2748.4 1469.3,2748.2 1469.9,2746.8C1470.5,2745.5 1471.2,2741.9 1471.8,2738.6C1472.4,2735.4 1473.4,2727.8 1474.0,2723.6C1474.6,2719.4 1475.4,2712.3 1475.9,2708.6C1476.4,2705.0 1477.2,2700.0 1477.8,2697.7C1478.4,2695.4 1479.3,2693.2 1480.0,2692.3C1480.7,2691.4 1482.0,2691.3 1482.7,2691.5C1483.5,2691.6 1484.7,2693.9 1485.5,2693.6C1486.2,2693.4 1487.4,2691.1 1488.2,2689.5C1488.9,2687.9 1490.1,2683.8 1490.9,2682.2C1491.7,2680.5 1492.9,2678.4 1493.6,2677.8C1494.4,2677.2 1495.6,2677.1 1496.4,2677.8C1497.1,2678.5 1498.3,2681.0 1499.1,2682.7C1499.9,2684.5 1501.1,2688.8 1501.8,2690.4C1502.6,2692.0 1503.8,2694.2 1504.5,2694.2C1505.3,2694.2 1506.5,2692.0 1507.3,2690.4C1508.0,2688.7 1509.2,2684.2 1510.0,2682.2C1510.8,2680.2 1512.0,2677.4 1512.7,2675.9C1513.5,2674.5 1514.7,2673.1 1515.5,2671.8C1516.2,2670.6 1517.4,2668.4 1518.2,2666.9C1518.9,2665.4 1520.1,2662.4 1520.9,2660.9C1521.7,2659.4 1522.8,2657.0 1523.6,2656.0C1524.5,2655.0 1526.0,2654.2 1526.9,2653.5C1527.8,2652.9 1529.3,2652.2 1530.2,2651.4C1531.1,2650.6 1532.5,2648.6 1533.5,2647.8C1534.4,2647.1 1536.2,2646.3 1537.3,2645.9C1538.3,2645.5 1540.1,2645.1 1541.1,2645.1C1542.1,2645.1 1543.5,2645.2 1544.4,2645.9C1545.2,2646.6 1546.4,2648.1 1547.1,2650.0C1547.8,2651.9 1548.9,2656.7 1549.5,2659.5C1550.2,2662.4 1551.2,2667.6 1551.7,2670.5C1552.3,2673.3 1553.1,2678.0 1553.6,2680.0C1554.2,2682.0 1555.2,2684.6 1555.8,2684.9C1556.4,2685.2 1557.4,2683.6 1558.0,2682.2C1558.6,2680.8 1559.7,2676.6 1560.5,2675.1C1561.2,2673.6 1562.4,2671.9 1563.2,2671.3C1563.9,2670.6 1565.1,2670.1 1565.9,2670.5C1566.7,2670.8 1567.9,2672.7 1568.6,2674.0C1569.4,2675.3 1570.7,2678.8 1571.4,2679.5C1572.1,2680.1 1572.9,2679.9 1573.5,2678.6C1574.2,2677.4 1575.3,2673.0 1576.0,2670.5C1576.7,2667.9 1578.0,2662.5 1578.7,2660.4C1579.5,2658.3 1580.7,2656.3 1581.5,2655.5C1582.2,2654.7 1583.4,2654.4 1584.2,2654.6C1584.9,2654.8 1586.2,2655.4 1586.9,2656.8C1587.6,2658.3 1588.5,2662.1 1589.1,2665.0C1589.7,2667.9 1590.7,2673.6 1591.3,2677.3C1591.9,2680.9 1592.8,2686.9 1593.5,2690.9C1594.1,2694.9 1595.2,2701.7 1595.9,2705.9C1596.6,2710.1 1597.7,2717.3 1598.4,2720.9C1599.1,2724.5 1600.1,2729.3 1600.8,2731.8C1601.5,2734.3 1602.5,2737.3 1603.3,2738.6C1604.0,2740.0 1605.2,2741.2 1606.0,2741.4C1606.8,2741.6 1608.0,2741.1 1608.7,2740.0C1609.5,2738.9 1610.7,2735.5 1611.5,2733.2C1612.2,2730.9 1613.4,2726.5 1614.2,2723.6C1614.9,2720.8 1616.1,2715.6 1616.9,2712.7C1617.7,2709.9 1618.9,2705.1 1619.6,2703.2C1620.4,2701.3 1621.6,2700.2 1622.4,2699.1C1623.1,2697.9 1624.3,2696.5 1625.1,2695.0C1625.9,2693.5 1627.1,2689.5 1627.8,2688.2C1628.5,2686.8 1629.3,2686.6 1630.0,2685.5C1630.7,2684.3 1632.0,2681.1 1632.7,2680.0C1633.5,2678.9 1634.7,2677.3 1635.5,2677.3C1636.2,2677.3 1637.5,2678.1 1638.2,2680.0C1638.9,2681.9 1639.8,2687.5 1640.4,2690.9C1641.0,2694.3 1641.9,2701.1 1642.5,2704.5C1643.2,2708.0 1644.1,2713.6 1644.7,2715.5C1645.3,2717.3 1646.4,2718.6 1646.9,2717.6C1647.4,2716.7 1648.1,2711.8 1648.5,2708.6C1649.0,2705.5 1649.7,2697.4 1650.2,2695.0C1650.6,2692.6 1651.4,2690.9 1651.8,2691.5C1652.3,2692.0 1653.0,2695.7 1653.5,2699.1C1653.9,2702.5 1654.6,2711.3 1655.1,2715.5C1655.5,2719.7 1656.2,2726.4 1656.7,2729.1C1657.2,2731.8 1658.1,2734.5 1658.6,2734.5C1659.2,2734.5 1660.0,2731.8 1660.5,2729.1C1661.0,2726.4 1661.7,2719.7 1662.2,2715.5C1662.6,2711.3 1663.4,2702.7 1663.8,2699.1C1664.3,2695.5 1664.9,2691.3 1665.5,2689.5C1666.0,2687.8 1667.0,2686.8 1667.6,2686.8C1668.2,2686.8 1669.2,2688.6 1669.8,2689.5C1670.5,2690.5 1671.5,2692.3 1672.3,2693.6C1673.0,2695.0 1674.2,2697.6 1675.0,2699.1C1675.8,2700.6 1677.1,2702.3 1677.7,2704.5C1678.4,2706.8 1679.1,2712.0 1679.6,2715.5C1680.2,2718.9 1681.2,2726.2 1681.8,2729.1C1682.4,2732.0 1683.4,2735.5 1684.0,2735.9C1684.6,2736.3 1685.6,2733.9 1686.2,2731.8C1686.7,2729.7 1687.4,2724.2 1687.8,2720.9C1688.3,2717.7 1689.0,2711.7 1689.5,2708.6C1690.0,2705.6 1690.8,2701.1 1691.4,2699.1C1691.9,2697.1 1692.7,2694.8 1693.3,2694.2C1693.8,2693.6 1694.8,2694.4 1695.5,2695.0C1696.1,2695.6 1697.4,2697.7 1698.2,2698.5C1698.9,2699.4 1700.1,2700.8 1700.9,2701.3C1701.7,2701.7 1702.9,2701.6 1703.6,2701.8C1704.4,2702.1 1705.7,2702.2 1706.4,2703.2C1707.1,2704.1 1707.9,2707.2 1708.5,2708.6C1709.2,2710.0 1710.4,2712.4 1711.3,2713.3C1712.1,2714.2 1713.7,2714.5 1714.5,2714.9C1715.4,2715.3 1716.6,2715.5 1717.3,2716.0C1718.0,2716.5 1718.8,2718.4 1719.5,2718.2C1720.1,2717.9 1721.0,2715.2 1721.6,2714.1C1722.3,2713.0 1723.4,2710.7 1724.1,2710.5C1724.8,2710.4 1725.9,2711.1 1726.5,2712.7C1727.2,2714.4 1728.1,2718.8 1728.7,2722.3C1729.3,2725.7 1730.3,2733.3 1730.9,2737.3C1731.5,2741.3 1732.5,2748.0 1733.1,2750.9C1733.7,2753.8 1734.5,2756.8 1735.0,2757.7C1735.5,2758.7 1736.3,2759.1 1736.9,2757.7C1737.5,2756.4 1738.5,2751.8 1739.1,2748.2C1739.7,2744.6 1740.7,2737.0 1741.3,2731.8C1741.8,2726.7 1742.6,2717.1 1743.2,2711.4C1743.7,2705.6 1744.5,2696.3 1745.1,2690.9C1745.7,2685.6 1746.6,2677.4 1747.3,2673.2C1748.0,2669.0 1749.2,2663.8 1750.0,2660.9C1750.8,2658.0 1751.9,2654.6 1752.7,2652.7C1753.6,2650.9 1755.0,2648.9 1756.0,2647.8C1757.0,2646.7 1758.6,2645.4 1759.5,2645.1C1760.5,2644.8 1762.2,2645.2 1763.1,2645.9C1764.0,2646.6 1765.1,2648.3 1765.8,2650.0C1766.5,2651.7 1767.4,2655.7 1768.0,2658.2C1768.6,2660.7 1769.6,2665.6 1770.2,2667.7C1770.8,2669.8 1771.8,2672.5 1772.4,2673.2C1773.0,2673.8 1773.9,2673.3 1774.5,2672.4C1775.2,2671.4 1776.0,2668.3 1776.7,2666.4C1777.4,2664.4 1778.6,2660.5 1779.5,2658.2C1780.3,2655.9 1781.8,2652.0 1782.7,2650.0C1783.6,2648.0 1785.0,2645.3 1786.0,2644.0C1787.0,2642.7 1788.5,2641.1 1789.5,2640.5C1790.6,2639.8 1792.5,2639.4 1793.6,2639.1C1794.8,2638.8 1796.7,2638.4 1797.7,2638.5C1798.8,2638.7 1800.3,2639.4 1801.3,2640.5C1802.2,2641.5 1803.6,2644.5 1804.5,2645.9C1805.5,2647.3 1806.9,2649.4 1807.8,2650.5C1808.8,2651.7 1810.5,2653.0 1811.4,2654.1C1812.2,2655.2 1813.4,2656.1 1814.1,2658.2C1814.7,2660.3 1815.5,2665.3 1816.0,2669.1C1816.5,2672.9 1817.2,2681.1 1817.6,2685.5C1818.1,2689.8 1818.8,2697.6 1819.3,2700.5C1819.7,2703.3 1820.5,2705.9 1820.9,2705.9C1821.4,2705.9 1822.1,2702.2 1822.5,2700.5C1823.0,2698.7 1823.7,2694.8 1824.2,2693.6C1824.6,2692.5 1825.4,2691.3 1825.8,2692.3C1826.3,2693.2 1827.0,2697.2 1827.5,2700.5C1827.9,2703.7 1828.6,2711.1 1829.1,2715.5C1829.5,2719.8 1830.3,2727.8 1830.7,2731.8C1831.2,2735.8 1831.9,2742.2 1832.4,2744.1C1832.8,2746.0 1833.5,2746.8 1834.0,2745.5C1834.5,2744.1 1835.2,2738.0 1835.6,2734.5C1836.1,2731.1 1836.7,2724.2 1837.3,2720.9C1837.8,2717.7 1838.8,2712.9 1839.5,2711.4C1840.1,2709.8 1841.0,2709.4 1841.6,2710.0C1842.2,2710.6 1843.2,2714.7 1843.8,2715.5C1844.4,2716.2 1845.4,2717.0 1846.0,2715.5C1846.6,2713.9 1847.6,2708.0 1848.2,2704.5C1848.8,2701.1 1849.8,2694.3 1850.4,2690.9C1851.0,2687.5 1851.9,2682.1 1852.5,2680.0C1853.2,2677.9 1854.4,2676.9 1855.3,2675.9C1856.1,2675.0 1857.6,2674.3 1858.5,2673.2C1859.5,2672.0 1860.9,2669.1 1861.8,2667.7C1862.7,2666.4 1864.3,2665.0 1865.1,2663.6C1865.9,2662.3 1867.1,2660.1 1867.8,2658.2C1868.5,2656.3 1869.3,2652.0 1870.0,2650.0C1870.7,2648.0 1872.0,2645.1 1872.7,2644.0C1873.5,2642.9 1874.6,2642.1 1875.5,2641.8C1876.3,2641.5 1877.8,2641.4 1878.7,2641.8C1879.7,2642.2 1881.3,2644.0 1882.3,2644.5C1883.3,2645.1 1884.9,2645.5 1885.8,2645.9C1886.8,2646.4 1888.3,2647.1 1889.1,2647.8C1889.9,2648.6 1891.1,2649.5 1891.8,2651.4C1892.6,2653.2 1893.8,2658.6 1894.5,2660.9C1895.3,2663.2 1896.5,2666.4 1897.3,2667.7C1898.0,2669.1 1899.2,2670.3 1900.0,2670.5C1900.8,2670.6 1902.0,2669.7 1902.7,2669.1C1903.4,2668.4 1904.3,2666.2 1904.9,2665.8C1905.5,2665.4 1906.6,2665.1 1907.1,2666.4C1907.6,2667.6 1908.3,2671.9 1908.7,2674.5C1909.2,2677.1 1909.8,2682.8 1910.4,2684.9C1910.9,2687.0 1911.9,2689.5 1912.5,2689.5C1913.2,2689.6 1914.1,2687.0 1914.7,2685.5C1915.3,2683.9 1916.4,2679.9 1916.9,2678.6C1917.4,2677.4 1918.1,2676.3 1918.5,2676.7C1919.0,2677.1 1919.7,2679.2 1920.2,2681.4C1920.6,2683.5 1921.3,2689.2 1921.8,2692.3C1922.4,2695.3 1923.4,2700.9 1924.0,2703.2C1924.6,2705.5 1925.5,2707.7 1926.2,2708.6C1926.8,2709.6 1927.9,2710.4 1928.6,2710.0C1929.3,2709.6 1930.4,2707.8 1931.1,2705.9C1931.7,2704.0 1932.7,2699.4 1933.3,2696.4C1933.9,2693.3 1934.8,2687.1 1935.5,2684.1C1936.1,2681.0 1936.9,2676.1 1937.6,2674.5C1938.3,2673.0 1939.6,2673.1 1940.4,2673.2C1941.1,2673.3 1942.3,2675.1 1943.1,2675.1C1943.9,2675.1 1945.1,2674.4 1945.8,2673.2C1946.5,2672.0 1947.4,2668.8 1948.0,2666.4C1948.6,2663.9 1949.6,2657.8 1950.2,2655.5C1950.8,2653.1 1951.8,2650.4 1952.4,2649.5C1953.0,2648.5 1953.9,2648.0 1954.5,2648.6C1955.2,2649.3 1956.1,2652.0 1956.7,2654.1C1957.3,2656.2 1958.3,2661.5 1958.9,2663.6C1959.5,2665.7 1960.4,2668.3 1961.1,2669.1C1961.8,2669.9 1963.1,2669.9 1963.8,2669.1C1964.5,2668.3 1965.4,2665.9 1966.0,2663.6C1966.6,2661.3 1967.6,2655.8 1968.2,2652.7C1968.8,2649.7 1969.8,2643.7 1970.4,2641.8C1971.0,2639.9 1971.9,2639.3 1972.5,2639.1C1973.2,2638.9 1974.5,2639.9 1975.3,2640.5C1976.0,2641.0 1977.2,2643.0 1978.0,2643.2C1978.8,2643.4 1980.8,2642.0 1981.3,2641.8" stroke="#ff0000" stroke-width="4.6"/>
<line x1="1530" y1="1796.8" x2="1530" y2="2886" stroke="#ff3636" stroke-width="3.8" stroke-dasharray="17 14.05"/>
<line x1="1928.5" y1="1787.3" x2="1928.5" y2="2876" stroke="#ff3636" stroke-width="3.8" stroke-dasharray="17 14.05"/>
<rect x="212" y="1634" width="1770.5" height="1293.3" fill="none" stroke="#000" stroke-width="4.3"/>
<g class="ax">
<line x1="271.4" y1="2927.3" x2="271.4" y2="2954.5"/>
<line x1="418.8" y1="2927.3" x2="418.8" y2="2942.0"/>
<line x1="566.2" y1="2927.3" x2="566.2" y2="2954.5"/>
<line x1="713.6" y1="2927.3" x2="713.6" y2="2942.0"/>
<line x1="861.0" y1="2927.3" x2="861.0" y2="2954.5"/>
<line x1="1008.4" y1="2927.3" x2="1008.4" y2="2942.0"/>
<line x1="1155.8" y1="2927.3" x2="1155.8" y2="2954.5"/>
<line x1="1303.2" y1="2927.3" x2="1303.2" y2="2942.0"/>
<line x1="1450.6" y1="2927.3" x2="1450.6" y2="2954.5"/>
<line x1="1598.0" y1="2927.3" x2="1598.0" y2="2942.0"/>
<line x1="1745.4" y1="2927.3" x2="1745.4" y2="2954.5"/>
<line x1="1892.8" y1="2927.3" x2="1892.8" y2="2942.0"/>
</g>
<text x="271.4" y="3017.3" font-size="62" text-anchor="middle" textLength="135" lengthAdjust="spacingAndGlyphs">3500</text>
<text x="566.2" y="3017.3" font-size="62" text-anchor="middle" textLength="135" lengthAdjust="spacingAndGlyphs">3000</text>
<text x="861.0" y="3017.3" font-size="62" text-anchor="middle" textLength="135" lengthAdjust="spacingAndGlyphs">2500</text>
<text x="1155.8" y="3017.3" font-size="62" text-anchor="middle" textLength="135" lengthAdjust="spacingAndGlyphs">2000</text>
<text x="1450.6" y="3017.3" font-size="62" text-anchor="middle" textLength="135" lengthAdjust="spacingAndGlyphs">1500</text>
<text x="1745.4" y="3017.3" font-size="62" text-anchor="middle" textLength="135" lengthAdjust="spacingAndGlyphs">1000</text>
<text x="230" y="1724" font-size="77">(b)</text>
<text x="1546.5" y="1761" font-size="61.6" text-anchor="middle">C-N str.</text>
<text x="1844.2" y="1751" font-size="61.4" text-anchor="middle">C-Cl str.</text>
<line x1="629.5" y1="2057.5" x2="769.5" y2="2057.5" stroke="#0000ff" stroke-width="4.6"/>
<line x1="629.5" y1="2133" x2="769.5" y2="2133" stroke="#ff0000" stroke-width="4.6"/>
<line x1="629.5" y1="2210.5" x2="769.5" y2="2210.5" stroke="#000" stroke-width="4.6"/>
<text x="784" y="2077.5" font-size="60.5">QPSf</text>
<text x="783" y="2153.5" font-size="61">PSf</text>
<text x="784" y="2231.5" font-size="60.5">ClPSf</text>
<text transform="translate(117,2319.5) rotate(-90)" font-size="61.8" text-anchor="middle">Intensity (a.u.)</text>
<text x="801" y="3134" font-size="61">Wavenumbers (cm<tspan font-size="35" dy="-28">-1</tspan><tspan dy="28">)</tspan></text>
</g>
</svg>
</div>
</body></html>
